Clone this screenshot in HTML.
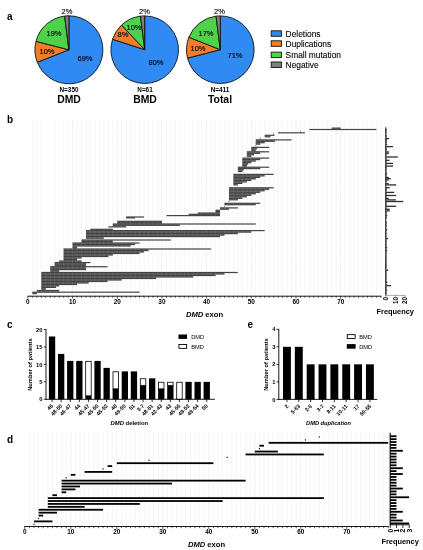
<!DOCTYPE html>
<html><head><meta charset="utf-8"><title>DMD mutation spectrum</title>
<style>html,body{margin:0;padding:0;background:#fff}svg{display:block}text{font-family:"Liberation Sans",Arial,sans-serif;fill:#000}.b{font-weight:bold}.i{font-style:italic}</style>
</head><body>
<svg width="423" height="550" viewBox="0 0 423 550">
<rect width="423" height="550" fill="#fff"/>
<g id="panel-a">
<text class="b" x="7" y="19.5" font-size="10">a</text>
<path d="M68.90,49.80 L68.90,15.80 A34.0,34.0 0 1 1 37.29,62.32 Z" fill="#2f8af2" stroke="#111" stroke-width="0.9" stroke-linejoin="round"/>
<path d="M68.90,49.80 L37.29,62.32 A34.0,34.0 0 0 1 35.97,41.34 Z" fill="#f07d28" stroke="#111" stroke-width="0.9" stroke-linejoin="round"/>
<path d="M68.90,49.80 L35.97,41.34 A34.0,34.0 0 0 1 64.64,16.07 Z" fill="#4ed24a" stroke="#111" stroke-width="0.9" stroke-linejoin="round"/>
<path d="M68.90,49.80 L64.64,16.07 A34.0,34.0 0 0 1 68.90,15.80 Z" fill="#7f7f7f" stroke="#111" stroke-width="0.9" stroke-linejoin="round"/>
<path d="M144.70,49.70 L144.70,15.90 A33.8,33.8 0 1 1 112.55,39.26 Z" fill="#2f8af2" stroke="#111" stroke-width="0.9" stroke-linejoin="round"/>
<path d="M144.70,49.70 L112.55,39.26 A33.8,33.8 0 0 1 121.56,25.06 Z" fill="#f07d28" stroke="#111" stroke-width="0.9" stroke-linejoin="round"/>
<path d="M144.70,49.70 L121.56,25.06 A33.8,33.8 0 0 1 140.46,16.17 Z" fill="#4ed24a" stroke="#111" stroke-width="0.9" stroke-linejoin="round"/>
<path d="M144.70,49.70 L140.46,16.17 A33.8,33.8 0 0 1 144.70,15.90 Z" fill="#7f7f7f" stroke="#111" stroke-width="0.9" stroke-linejoin="round"/>
<path d="M220.30,49.70 L220.30,15.90 A33.8,33.8 0 1 1 187.56,58.11 Z" fill="#2f8af2" stroke="#111" stroke-width="0.9" stroke-linejoin="round"/>
<path d="M220.30,49.70 L187.56,58.11 A33.8,33.8 0 0 1 188.87,37.26 Z" fill="#f07d28" stroke="#111" stroke-width="0.9" stroke-linejoin="round"/>
<path d="M220.30,49.70 L188.87,37.26 A33.8,33.8 0 0 1 216.06,16.17 Z" fill="#4ed24a" stroke="#111" stroke-width="0.9" stroke-linejoin="round"/>
<path d="M220.30,49.70 L216.06,16.17 A33.8,33.8 0 0 1 220.30,15.90 Z" fill="#7f7f7f" stroke="#111" stroke-width="0.9" stroke-linejoin="round"/>
<text class="" x="67" y="14" font-size="7.5" text-anchor="middle" stroke="#000" stroke-width="0.12">2%</text>
<text class="" x="54" y="35.5" font-size="7.5" text-anchor="middle" stroke="#000" stroke-width="0.12">19%</text>
<text class="" x="47" y="53.5" font-size="7.5" text-anchor="middle" stroke="#000" stroke-width="0.12">10%</text>
<text class="" x="85" y="60.5" font-size="7.5" text-anchor="middle" stroke="#000" stroke-width="0.12">69%</text>
<text class="" x="144.5" y="14" font-size="7.5" text-anchor="middle" stroke="#000" stroke-width="0.12">2%</text>
<text class="" x="134" y="29.5" font-size="7.5" text-anchor="middle" stroke="#000" stroke-width="0.12">10%</text>
<text class="" x="123" y="37" font-size="7.5" text-anchor="middle" stroke="#000" stroke-width="0.12">8%</text>
<text class="" x="156" y="64.5" font-size="7.5" text-anchor="middle" stroke="#000" stroke-width="0.12">80%</text>
<text class="" x="219.5" y="14" font-size="7.5" text-anchor="middle" stroke="#000" stroke-width="0.12">2%</text>
<text class="" x="206" y="35.5" font-size="7.5" text-anchor="middle" stroke="#000" stroke-width="0.12">17%</text>
<text class="" x="198" y="50.5" font-size="7.5" text-anchor="middle" stroke="#000" stroke-width="0.12">10%</text>
<text class="" x="235" y="57.5" font-size="7.5" text-anchor="middle" stroke="#000" stroke-width="0.12">71%</text>
<text class="b" x="69" y="91.7" font-size="6.4" text-anchor="middle" >N=350</text>
<text class="b" x="69" y="102.7" font-size="10.4" text-anchor="middle" >DMD</text>
<text class="b" x="145" y="91.7" font-size="6.4" text-anchor="middle" >N=61</text>
<text class="b" x="145" y="102.7" font-size="10.4" text-anchor="middle" >BMD</text>
<text class="b" x="220" y="91.7" font-size="6.4" text-anchor="middle" >N=411</text>
<text class="b" x="220" y="102.7" font-size="10.4" text-anchor="middle" >Total</text>
<clipPath id="lgclip"><rect x="260" y="20" width="81.0" height="60"/></clipPath>
<g clip-path="url(#lgclip)">
<rect x="271.2" y="30.80" width="10.2" height="5.5" fill="#2f8af2" stroke="#111" stroke-width="0.9"/>
<text class="" x="285.6" y="36.5" font-size="8.4" text-anchor="start" stroke="#000" stroke-width="0.1">Deletions</text>
<rect x="271.2" y="40.80" width="10.2" height="5.5" fill="#f07d28" stroke="#111" stroke-width="0.9"/>
<text class="" x="285.6" y="46.5" font-size="8.4" text-anchor="start" stroke="#000" stroke-width="0.1">Duplications</text>
<rect x="271.2" y="52.10" width="10.2" height="5.5" fill="#4ed24a" stroke="#111" stroke-width="0.9"/>
<text class="" x="285.6" y="57.8" font-size="8.4" text-anchor="start" stroke="#000" stroke-width="0.1">Small mutations</text>
<rect x="271.2" y="62.00" width="10.2" height="5.5" fill="#7f7f7f" stroke="#111" stroke-width="0.9"/>
<text class="" x="285.6" y="67.7" font-size="8.4" text-anchor="start" stroke="#000" stroke-width="0.1">Negative</text>
</g>
</g>
<g id="panel-b">
<text class="b" x="7" y="122.9" font-size="10">b</text>
<line x1="32.37" y1="120" x2="32.37" y2="296" stroke="#f1f1f1" stroke-width="0.7"/>
<line x1="36.84" y1="120" x2="36.84" y2="296" stroke="#f1f1f1" stroke-width="0.7"/>
<line x1="41.30" y1="120" x2="41.30" y2="296" stroke="#f1f1f1" stroke-width="0.7"/>
<line x1="45.77" y1="120" x2="45.77" y2="296" stroke="#f1f1f1" stroke-width="0.7"/>
<line x1="50.24" y1="120" x2="50.24" y2="296" stroke="#f1f1f1" stroke-width="0.7"/>
<line x1="54.71" y1="120" x2="54.71" y2="296" stroke="#f1f1f1" stroke-width="0.7"/>
<line x1="59.18" y1="120" x2="59.18" y2="296" stroke="#f1f1f1" stroke-width="0.7"/>
<line x1="63.64" y1="120" x2="63.64" y2="296" stroke="#f1f1f1" stroke-width="0.7"/>
<line x1="68.11" y1="120" x2="68.11" y2="296" stroke="#f1f1f1" stroke-width="0.7"/>
<line x1="72.58" y1="120" x2="72.58" y2="296" stroke="#d8d8d8" stroke-width="0.7" stroke-dasharray="1 0.8"/>
<line x1="77.05" y1="120" x2="77.05" y2="296" stroke="#f1f1f1" stroke-width="0.7"/>
<line x1="81.52" y1="120" x2="81.52" y2="296" stroke="#f1f1f1" stroke-width="0.7"/>
<line x1="85.98" y1="120" x2="85.98" y2="296" stroke="#f1f1f1" stroke-width="0.7"/>
<line x1="90.45" y1="120" x2="90.45" y2="296" stroke="#f1f1f1" stroke-width="0.7"/>
<line x1="94.92" y1="120" x2="94.92" y2="296" stroke="#f1f1f1" stroke-width="0.7"/>
<line x1="99.39" y1="120" x2="99.39" y2="296" stroke="#f1f1f1" stroke-width="0.7"/>
<line x1="103.86" y1="120" x2="103.86" y2="296" stroke="#f1f1f1" stroke-width="0.7"/>
<line x1="108.32" y1="120" x2="108.32" y2="296" stroke="#f1f1f1" stroke-width="0.7"/>
<line x1="112.79" y1="120" x2="112.79" y2="296" stroke="#f1f1f1" stroke-width="0.7"/>
<line x1="117.26" y1="120" x2="117.26" y2="296" stroke="#d8d8d8" stroke-width="0.7" stroke-dasharray="1 0.8"/>
<line x1="121.73" y1="120" x2="121.73" y2="296" stroke="#f1f1f1" stroke-width="0.7"/>
<line x1="126.20" y1="120" x2="126.20" y2="296" stroke="#f1f1f1" stroke-width="0.7"/>
<line x1="130.66" y1="120" x2="130.66" y2="296" stroke="#f1f1f1" stroke-width="0.7"/>
<line x1="135.13" y1="120" x2="135.13" y2="296" stroke="#f1f1f1" stroke-width="0.7"/>
<line x1="139.60" y1="120" x2="139.60" y2="296" stroke="#f1f1f1" stroke-width="0.7"/>
<line x1="144.07" y1="120" x2="144.07" y2="296" stroke="#f1f1f1" stroke-width="0.7"/>
<line x1="148.54" y1="120" x2="148.54" y2="296" stroke="#f1f1f1" stroke-width="0.7"/>
<line x1="153.00" y1="120" x2="153.00" y2="296" stroke="#f1f1f1" stroke-width="0.7"/>
<line x1="157.47" y1="120" x2="157.47" y2="296" stroke="#f1f1f1" stroke-width="0.7"/>
<line x1="161.94" y1="120" x2="161.94" y2="296" stroke="#d8d8d8" stroke-width="0.7" stroke-dasharray="1 0.8"/>
<line x1="166.41" y1="120" x2="166.41" y2="296" stroke="#f1f1f1" stroke-width="0.7"/>
<line x1="170.88" y1="120" x2="170.88" y2="296" stroke="#f1f1f1" stroke-width="0.7"/>
<line x1="175.34" y1="120" x2="175.34" y2="296" stroke="#f1f1f1" stroke-width="0.7"/>
<line x1="179.81" y1="120" x2="179.81" y2="296" stroke="#f1f1f1" stroke-width="0.7"/>
<line x1="184.28" y1="120" x2="184.28" y2="296" stroke="#f1f1f1" stroke-width="0.7"/>
<line x1="188.75" y1="120" x2="188.75" y2="296" stroke="#f1f1f1" stroke-width="0.7"/>
<line x1="193.22" y1="120" x2="193.22" y2="296" stroke="#f1f1f1" stroke-width="0.7"/>
<line x1="197.68" y1="120" x2="197.68" y2="296" stroke="#f1f1f1" stroke-width="0.7"/>
<line x1="202.15" y1="120" x2="202.15" y2="296" stroke="#f1f1f1" stroke-width="0.7"/>
<line x1="206.62" y1="120" x2="206.62" y2="296" stroke="#d8d8d8" stroke-width="0.7" stroke-dasharray="1 0.8"/>
<line x1="211.09" y1="120" x2="211.09" y2="296" stroke="#f1f1f1" stroke-width="0.7"/>
<line x1="215.56" y1="120" x2="215.56" y2="296" stroke="#f1f1f1" stroke-width="0.7"/>
<line x1="220.02" y1="120" x2="220.02" y2="296" stroke="#f1f1f1" stroke-width="0.7"/>
<line x1="224.49" y1="120" x2="224.49" y2="296" stroke="#f1f1f1" stroke-width="0.7"/>
<line x1="228.96" y1="120" x2="228.96" y2="296" stroke="#f1f1f1" stroke-width="0.7"/>
<line x1="233.43" y1="120" x2="233.43" y2="296" stroke="#f1f1f1" stroke-width="0.7"/>
<line x1="237.90" y1="120" x2="237.90" y2="296" stroke="#f1f1f1" stroke-width="0.7"/>
<line x1="242.36" y1="120" x2="242.36" y2="296" stroke="#f1f1f1" stroke-width="0.7"/>
<line x1="246.83" y1="120" x2="246.83" y2="296" stroke="#f1f1f1" stroke-width="0.7"/>
<line x1="251.30" y1="120" x2="251.30" y2="296" stroke="#d8d8d8" stroke-width="0.7" stroke-dasharray="1 0.8"/>
<line x1="255.77" y1="120" x2="255.77" y2="296" stroke="#f1f1f1" stroke-width="0.7"/>
<line x1="260.24" y1="120" x2="260.24" y2="296" stroke="#f1f1f1" stroke-width="0.7"/>
<line x1="264.70" y1="120" x2="264.70" y2="296" stroke="#f1f1f1" stroke-width="0.7"/>
<line x1="269.17" y1="120" x2="269.17" y2="296" stroke="#f1f1f1" stroke-width="0.7"/>
<line x1="273.64" y1="120" x2="273.64" y2="296" stroke="#f1f1f1" stroke-width="0.7"/>
<line x1="278.11" y1="120" x2="278.11" y2="296" stroke="#f1f1f1" stroke-width="0.7"/>
<line x1="282.58" y1="120" x2="282.58" y2="296" stroke="#f1f1f1" stroke-width="0.7"/>
<line x1="287.04" y1="120" x2="287.04" y2="296" stroke="#f1f1f1" stroke-width="0.7"/>
<line x1="291.51" y1="120" x2="291.51" y2="296" stroke="#f1f1f1" stroke-width="0.7"/>
<line x1="295.98" y1="120" x2="295.98" y2="296" stroke="#d8d8d8" stroke-width="0.7" stroke-dasharray="1 0.8"/>
<line x1="300.45" y1="120" x2="300.45" y2="296" stroke="#f1f1f1" stroke-width="0.7"/>
<line x1="304.92" y1="120" x2="304.92" y2="296" stroke="#f1f1f1" stroke-width="0.7"/>
<line x1="309.38" y1="120" x2="309.38" y2="296" stroke="#f1f1f1" stroke-width="0.7"/>
<line x1="313.85" y1="120" x2="313.85" y2="296" stroke="#f1f1f1" stroke-width="0.7"/>
<line x1="318.32" y1="120" x2="318.32" y2="296" stroke="#f1f1f1" stroke-width="0.7"/>
<line x1="322.79" y1="120" x2="322.79" y2="296" stroke="#f1f1f1" stroke-width="0.7"/>
<line x1="327.26" y1="120" x2="327.26" y2="296" stroke="#f1f1f1" stroke-width="0.7"/>
<line x1="331.72" y1="120" x2="331.72" y2="296" stroke="#f1f1f1" stroke-width="0.7"/>
<line x1="336.19" y1="120" x2="336.19" y2="296" stroke="#f1f1f1" stroke-width="0.7"/>
<line x1="340.66" y1="120" x2="340.66" y2="296" stroke="#d8d8d8" stroke-width="0.7" stroke-dasharray="1 0.8"/>
<line x1="345.13" y1="120" x2="345.13" y2="296" stroke="#f1f1f1" stroke-width="0.7"/>
<line x1="349.60" y1="120" x2="349.60" y2="296" stroke="#f1f1f1" stroke-width="0.7"/>
<line x1="354.06" y1="120" x2="354.06" y2="296" stroke="#f1f1f1" stroke-width="0.7"/>
<line x1="358.53" y1="120" x2="358.53" y2="296" stroke="#f1f1f1" stroke-width="0.7"/>
<line x1="363.00" y1="120" x2="363.00" y2="296" stroke="#f1f1f1" stroke-width="0.7"/>
<line x1="367.47" y1="120" x2="367.47" y2="296" stroke="#f1f1f1" stroke-width="0.7"/>
<line x1="371.94" y1="120" x2="371.94" y2="296" stroke="#f1f1f1" stroke-width="0.7"/>
<line x1="376.40" y1="120" x2="376.40" y2="296" stroke="#f1f1f1" stroke-width="0.7"/>
<line x1="380.87" y1="120" x2="380.87" y2="296" stroke="#f1f1f1" stroke-width="0.7"/>
<rect x="331.72" y="128.10" width="8.94" height="1.40" fill="#8a8a8a"/>
<rect x="264.70" y="135.30" width="5.81" height="1.50" fill="#8a8a8a"/>
<rect x="255.77" y="139.90" width="19.21" height="1.40" fill="#8a8a8a"/>
<rect x="255.77" y="141.30" width="8.94" height="1.40" fill="#8a8a8a"/>
<rect x="255.77" y="142.70" width="4.47" height="1.40" fill="#8a8a8a"/>
<rect x="251.30" y="147.40" width="5.81" height="1.40" fill="#8a8a8a"/>
<rect x="251.30" y="148.80" width="4.47" height="1.40" fill="#8a8a8a"/>
<rect x="251.30" y="150.20" width="4.47" height="1.60" fill="#8a8a8a"/>
<rect x="246.83" y="151.80" width="13.40" height="1.50" fill="#8a8a8a"/>
<rect x="246.83" y="153.30" width="7.15" height="1.50" fill="#8a8a8a"/>
<rect x="246.83" y="154.80" width="4.47" height="1.50" fill="#8a8a8a"/>
<rect x="242.36" y="158.10" width="17.87" height="1.50" fill="#8a8a8a"/>
<rect x="242.36" y="159.60" width="13.40" height="1.50" fill="#8a8a8a"/>
<rect x="242.36" y="161.10" width="8.94" height="1.50" fill="#8a8a8a"/>
<rect x="242.36" y="162.60" width="5.81" height="1.50" fill="#8a8a8a"/>
<rect x="242.36" y="164.10" width="4.47" height="1.50" fill="#8a8a8a"/>
<rect x="242.36" y="165.60" width="4.47" height="1.60" fill="#8a8a8a"/>
<rect x="237.90" y="167.20" width="22.34" height="1.40" fill="#8a8a8a"/>
<rect x="237.90" y="168.60" width="5.81" height="1.40" fill="#8a8a8a"/>
<rect x="237.90" y="170.00" width="4.47" height="1.50" fill="#8a8a8a"/>
<rect x="233.43" y="174.40" width="31.28" height="1.50" fill="#8a8a8a"/>
<rect x="233.43" y="175.90" width="26.81" height="1.50" fill="#8a8a8a"/>
<rect x="233.43" y="177.40" width="22.34" height="1.50" fill="#8a8a8a"/>
<rect x="233.43" y="178.90" width="17.87" height="1.50" fill="#8a8a8a"/>
<rect x="233.43" y="180.40" width="13.40" height="1.50" fill="#8a8a8a"/>
<rect x="233.43" y="181.90" width="8.94" height="1.50" fill="#8a8a8a"/>
<rect x="233.43" y="183.40" width="4.47" height="1.50" fill="#8a8a8a"/>
<rect x="228.96" y="187.80" width="40.21" height="1.50" fill="#8a8a8a"/>
<rect x="228.96" y="189.30" width="35.74" height="1.50" fill="#8a8a8a"/>
<rect x="228.96" y="190.80" width="31.28" height="1.50" fill="#8a8a8a"/>
<rect x="228.96" y="192.30" width="26.81" height="1.50" fill="#8a8a8a"/>
<rect x="228.96" y="193.80" width="22.34" height="1.50" fill="#8a8a8a"/>
<rect x="228.96" y="195.30" width="17.87" height="1.50" fill="#8a8a8a"/>
<rect x="228.96" y="196.80" width="13.40" height="1.50" fill="#8a8a8a"/>
<rect x="228.96" y="198.30" width="8.94" height="1.50" fill="#8a8a8a"/>
<rect x="224.49" y="203.30" width="31.28" height="1.40" fill="#8a8a8a"/>
<rect x="220.02" y="207.90" width="8.94" height="1.30" fill="#8a8a8a"/>
<rect x="215.56" y="210.30" width="4.47" height="1.30" fill="#8a8a8a"/>
<rect x="215.56" y="211.60" width="4.47" height="1.40" fill="#8a8a8a"/>
<rect x="197.68" y="213.00" width="22.34" height="1.30" fill="#8a8a8a"/>
<rect x="188.75" y="214.30" width="31.28" height="1.30" fill="#8a8a8a"/>
<rect x="126.20" y="217.00" width="8.94" height="0.90" fill="#8a8a8a"/>
<rect x="117.26" y="221.30" width="44.68" height="1.40" fill="#8a8a8a"/>
<rect x="117.26" y="222.70" width="44.68" height="1.30" fill="#8a8a8a"/>
<rect x="112.79" y="224.00" width="67.02" height="1.30" fill="#8a8a8a"/>
<rect x="112.79" y="225.30" width="13.40" height="1.60" fill="#8a8a8a"/>
<rect x="90.45" y="229.30" width="22.34" height="1.30" fill="#8a8a8a"/>
<rect x="85.98" y="230.60" width="165.32" height="1.50" fill="#8a8a8a"/>
<rect x="85.98" y="232.10" width="151.91" height="1.50" fill="#8a8a8a"/>
<rect x="85.98" y="233.60" width="138.51" height="1.50" fill="#8a8a8a"/>
<rect x="85.98" y="235.10" width="134.04" height="1.50" fill="#8a8a8a"/>
<rect x="85.98" y="236.60" width="17.87" height="1.60" fill="#8a8a8a"/>
<rect x="81.52" y="240.00" width="31.28" height="1.50" fill="#8a8a8a"/>
<rect x="81.52" y="241.50" width="31.28" height="1.50" fill="#8a8a8a"/>
<rect x="72.58" y="243.00" width="62.55" height="1.50" fill="#8a8a8a"/>
<rect x="72.58" y="244.50" width="58.08" height="1.50" fill="#8a8a8a"/>
<rect x="72.58" y="246.00" width="4.47" height="1.70" fill="#8a8a8a"/>
<rect x="72.58" y="247.70" width="4.47" height="1.30" fill="#8a8a8a"/>
<rect x="63.64" y="249.00" width="84.89" height="1.50" fill="#8a8a8a"/>
<rect x="63.64" y="250.50" width="80.42" height="1.50" fill="#8a8a8a"/>
<rect x="63.64" y="252.00" width="75.96" height="1.50" fill="#8a8a8a"/>
<rect x="63.64" y="253.50" width="49.15" height="1.50" fill="#8a8a8a"/>
<rect x="63.64" y="255.00" width="44.68" height="1.50" fill="#8a8a8a"/>
<rect x="63.64" y="256.50" width="17.87" height="1.50" fill="#8a8a8a"/>
<rect x="63.64" y="258.00" width="13.40" height="1.50" fill="#8a8a8a"/>
<rect x="63.64" y="259.50" width="13.40" height="1.50" fill="#8a8a8a"/>
<rect x="59.18" y="261.00" width="22.34" height="1.60" fill="#8a8a8a"/>
<rect x="54.71" y="262.60" width="31.28" height="1.40" fill="#8a8a8a"/>
<rect x="54.71" y="264.00" width="31.28" height="1.30" fill="#8a8a8a"/>
<rect x="54.71" y="265.30" width="31.28" height="1.40" fill="#8a8a8a"/>
<rect x="50.24" y="266.70" width="35.74" height="1.40" fill="#8a8a8a"/>
<rect x="50.24" y="268.10" width="35.74" height="1.50" fill="#8a8a8a"/>
<rect x="50.24" y="269.60" width="8.94" height="1.40" fill="#8a8a8a"/>
<rect x="50.24" y="271.00" width="8.94" height="1.50" fill="#8a8a8a"/>
<rect x="41.30" y="272.50" width="183.19" height="1.50" fill="#8a8a8a"/>
<rect x="41.30" y="274.00" width="174.25" height="1.50" fill="#8a8a8a"/>
<rect x="41.30" y="275.50" width="151.91" height="1.50" fill="#8a8a8a"/>
<rect x="41.30" y="277.00" width="114.83" height="1.50" fill="#8a8a8a"/>
<rect x="41.30" y="278.50" width="80.42" height="1.50" fill="#8a8a8a"/>
<rect x="41.30" y="280.00" width="66.13" height="1.50" fill="#8a8a8a"/>
<rect x="41.30" y="281.50" width="47.36" height="1.50" fill="#8a8a8a"/>
<rect x="41.30" y="283.00" width="35.74" height="1.50" fill="#8a8a8a"/>
<rect x="41.30" y="284.50" width="17.87" height="1.40" fill="#8a8a8a"/>
<rect x="41.30" y="285.90" width="14.74" height="1.50" fill="#8a8a8a"/>
<rect x="41.30" y="287.40" width="4.47" height="1.50" fill="#8a8a8a"/>
<rect x="41.30" y="288.90" width="4.47" height="1.60" fill="#8a8a8a"/>
<rect x="36.84" y="290.50" width="22.34" height="1.70" fill="#8a8a8a"/>
<rect x="32.37" y="292.20" width="4.47" height="1.40" fill="#8a8a8a"/>
<rect x="331.72" y="127.50" width="8.94" height="1.2" fill="#414141"/>
<rect x="309.38" y="128.90" width="67.02" height="1.2" fill="#414141"/>
<rect x="300.05" y="130.60" width="0.9" height="1" fill="#414141"/>
<rect x="278.11" y="132.20" width="26.81" height="1.2" fill="#414141"/>
<rect x="273.24" y="133.50" width="0.9" height="1" fill="#414141"/>
<rect x="264.70" y="134.70" width="9.83" height="1.2" fill="#414141"/>
<rect x="264.70" y="136.20" width="5.81" height="1.2" fill="#414141"/>
<rect x="259.84" y="137.90" width="0.9" height="1" fill="#414141"/>
<rect x="255.77" y="139.30" width="35.74" height="1.2" fill="#414141"/>
<rect x="255.77" y="140.70" width="19.21" height="1.2" fill="#414141"/>
<rect x="255.77" y="142.10" width="8.94" height="1.2" fill="#414141"/>
<rect x="255.77" y="143.50" width="4.47" height="1.2" fill="#414141"/>
<rect x="255.37" y="145.10" width="0.9" height="1" fill="#414141"/>
<rect x="251.30" y="146.80" width="17.87" height="1.2" fill="#414141"/>
<rect x="251.30" y="148.20" width="5.81" height="1.2" fill="#414141"/>
<rect x="251.30" y="149.60" width="4.47" height="1.2" fill="#414141"/>
<rect x="246.83" y="151.20" width="22.34" height="1.2" fill="#414141"/>
<rect x="246.83" y="152.70" width="13.40" height="1.2" fill="#414141"/>
<rect x="246.83" y="154.20" width="7.15" height="1.2" fill="#414141"/>
<rect x="246.83" y="155.70" width="4.47" height="1.2" fill="#414141"/>
<rect x="242.36" y="157.50" width="26.81" height="1.2" fill="#414141"/>
<rect x="242.36" y="159.00" width="17.87" height="1.2" fill="#414141"/>
<rect x="242.36" y="160.50" width="13.40" height="1.2" fill="#414141"/>
<rect x="242.36" y="162.00" width="8.94" height="1.2" fill="#414141"/>
<rect x="242.36" y="163.50" width="5.81" height="1.2" fill="#414141"/>
<rect x="242.36" y="165.00" width="4.47" height="1.2" fill="#414141"/>
<rect x="237.90" y="166.60" width="31.28" height="1.2" fill="#414141"/>
<rect x="237.90" y="168.00" width="22.34" height="1.2" fill="#414141"/>
<rect x="237.90" y="169.40" width="5.81" height="1.2" fill="#414141"/>
<rect x="237.90" y="170.90" width="4.47" height="1.2" fill="#414141"/>
<rect x="233.43" y="173.80" width="40.21" height="1.2" fill="#414141"/>
<rect x="233.43" y="175.30" width="31.28" height="1.2" fill="#414141"/>
<rect x="233.43" y="176.80" width="26.81" height="1.2" fill="#414141"/>
<rect x="233.43" y="178.30" width="22.34" height="1.2" fill="#414141"/>
<rect x="233.43" y="179.80" width="17.87" height="1.2" fill="#414141"/>
<rect x="233.43" y="181.30" width="13.40" height="1.2" fill="#414141"/>
<rect x="233.43" y="182.80" width="8.94" height="1.2" fill="#414141"/>
<rect x="233.43" y="184.30" width="4.47" height="1.2" fill="#414141"/>
<rect x="228.96" y="187.20" width="44.68" height="1.2" fill="#414141"/>
<rect x="228.96" y="188.70" width="40.21" height="1.2" fill="#414141"/>
<rect x="228.96" y="190.20" width="35.74" height="1.2" fill="#414141"/>
<rect x="228.96" y="191.70" width="31.28" height="1.2" fill="#414141"/>
<rect x="228.96" y="193.20" width="26.81" height="1.2" fill="#414141"/>
<rect x="228.96" y="194.70" width="22.34" height="1.2" fill="#414141"/>
<rect x="228.96" y="196.20" width="17.87" height="1.2" fill="#414141"/>
<rect x="228.96" y="197.70" width="13.40" height="1.2" fill="#414141"/>
<rect x="228.96" y="199.20" width="8.94" height="1.2" fill="#414141"/>
<rect x="228.56" y="200.80" width="0.9" height="1" fill="#414141"/>
<rect x="224.49" y="202.70" width="35.74" height="1.2" fill="#414141"/>
<rect x="224.49" y="204.10" width="31.28" height="1.2" fill="#414141"/>
<rect x="224.09" y="205.80" width="0.9" height="1" fill="#414141"/>
<rect x="220.02" y="207.30" width="17.87" height="1.2" fill="#414141"/>
<rect x="220.02" y="208.60" width="8.94" height="1.2" fill="#414141"/>
<rect x="215.56" y="209.70" width="4.47" height="1.2" fill="#414141"/>
<rect x="215.56" y="211.00" width="4.47" height="1.2" fill="#414141"/>
<rect x="197.68" y="212.40" width="22.34" height="1.2" fill="#414141"/>
<rect x="188.75" y="213.70" width="31.28" height="1.2" fill="#414141"/>
<rect x="166.41" y="215.00" width="53.62" height="1.2" fill="#414141"/>
<rect x="126.20" y="216.40" width="17.87" height="1.2" fill="#414141"/>
<rect x="126.20" y="217.30" width="8.94" height="1.2" fill="#414141"/>
<rect x="117.26" y="220.70" width="44.68" height="1.2" fill="#414141"/>
<rect x="117.26" y="222.10" width="44.68" height="1.2" fill="#414141"/>
<rect x="112.79" y="223.40" width="142.98" height="1.2" fill="#414141"/>
<rect x="112.79" y="224.70" width="67.02" height="1.2" fill="#414141"/>
<rect x="108.32" y="226.30" width="17.87" height="1.2" fill="#414141"/>
<rect x="90.45" y="228.70" width="22.34" height="1.2" fill="#414141"/>
<rect x="85.98" y="230.00" width="178.72" height="1.2" fill="#414141"/>
<rect x="85.98" y="231.50" width="165.32" height="1.2" fill="#414141"/>
<rect x="85.98" y="233.00" width="151.91" height="1.2" fill="#414141"/>
<rect x="85.98" y="234.50" width="138.51" height="1.2" fill="#414141"/>
<rect x="85.98" y="236.00" width="134.04" height="1.2" fill="#414141"/>
<rect x="85.98" y="237.60" width="17.87" height="1.2" fill="#414141"/>
<rect x="81.52" y="239.40" width="89.36" height="1.2" fill="#414141"/>
<rect x="81.52" y="240.90" width="31.28" height="1.2" fill="#414141"/>
<rect x="72.58" y="242.40" width="67.02" height="1.2" fill="#414141"/>
<rect x="72.58" y="243.90" width="62.55" height="1.2" fill="#414141"/>
<rect x="72.58" y="245.40" width="58.08" height="1.2" fill="#414141"/>
<rect x="72.58" y="247.10" width="4.47" height="1.2" fill="#414141"/>
<rect x="63.64" y="248.40" width="147.44" height="1.2" fill="#414141"/>
<rect x="63.64" y="249.90" width="84.89" height="1.2" fill="#414141"/>
<rect x="63.64" y="251.40" width="80.42" height="1.2" fill="#414141"/>
<rect x="63.64" y="252.90" width="75.96" height="1.2" fill="#414141"/>
<rect x="63.64" y="254.40" width="49.15" height="1.2" fill="#414141"/>
<rect x="63.64" y="255.90" width="44.68" height="1.2" fill="#414141"/>
<rect x="63.64" y="257.40" width="17.87" height="1.2" fill="#414141"/>
<rect x="63.64" y="258.90" width="13.40" height="1.2" fill="#414141"/>
<rect x="59.18" y="260.40" width="22.34" height="1.2" fill="#414141"/>
<rect x="54.71" y="262.00" width="35.74" height="1.2" fill="#414141"/>
<rect x="54.71" y="263.40" width="31.28" height="1.2" fill="#414141"/>
<rect x="54.71" y="264.70" width="31.28" height="1.2" fill="#414141"/>
<rect x="50.24" y="266.10" width="57.19" height="1.2" fill="#414141"/>
<rect x="50.24" y="267.50" width="35.74" height="1.2" fill="#414141"/>
<rect x="50.24" y="269.00" width="35.74" height="1.2" fill="#414141"/>
<rect x="50.24" y="270.40" width="8.94" height="1.2" fill="#414141"/>
<rect x="41.30" y="271.90" width="196.59" height="1.2" fill="#414141"/>
<rect x="41.30" y="273.40" width="183.19" height="1.2" fill="#414141"/>
<rect x="41.30" y="274.90" width="174.25" height="1.2" fill="#414141"/>
<rect x="41.30" y="276.40" width="151.91" height="1.2" fill="#414141"/>
<rect x="41.30" y="277.90" width="114.83" height="1.2" fill="#414141"/>
<rect x="41.30" y="279.40" width="80.42" height="1.2" fill="#414141"/>
<rect x="41.30" y="280.90" width="66.13" height="1.2" fill="#414141"/>
<rect x="41.30" y="282.40" width="47.36" height="1.2" fill="#414141"/>
<rect x="41.30" y="283.90" width="35.74" height="1.2" fill="#414141"/>
<rect x="41.30" y="285.30" width="17.87" height="1.2" fill="#414141"/>
<rect x="41.30" y="286.80" width="14.74" height="1.2" fill="#414141"/>
<rect x="41.30" y="288.30" width="4.47" height="1.2" fill="#414141"/>
<rect x="36.84" y="289.90" width="22.34" height="1.2" fill="#414141"/>
<rect x="32.37" y="291.60" width="107.23" height="1.2" fill="#414141"/>
<rect x="32.37" y="293.00" width="4.47" height="1.2" fill="#414141"/>
<line x1="32.37" y1="127" x2="32.37" y2="295" stroke="#fff" stroke-opacity="0.13" stroke-width="0.6"/>
<line x1="36.84" y1="127" x2="36.84" y2="295" stroke="#fff" stroke-opacity="0.13" stroke-width="0.6"/>
<line x1="41.30" y1="127" x2="41.30" y2="295" stroke="#fff" stroke-opacity="0.13" stroke-width="0.6"/>
<line x1="45.77" y1="127" x2="45.77" y2="295" stroke="#fff" stroke-opacity="0.13" stroke-width="0.6"/>
<line x1="50.24" y1="127" x2="50.24" y2="295" stroke="#fff" stroke-opacity="0.13" stroke-width="0.6"/>
<line x1="54.71" y1="127" x2="54.71" y2="295" stroke="#fff" stroke-opacity="0.13" stroke-width="0.6"/>
<line x1="59.18" y1="127" x2="59.18" y2="295" stroke="#fff" stroke-opacity="0.13" stroke-width="0.6"/>
<line x1="63.64" y1="127" x2="63.64" y2="295" stroke="#fff" stroke-opacity="0.13" stroke-width="0.6"/>
<line x1="68.11" y1="127" x2="68.11" y2="295" stroke="#fff" stroke-opacity="0.13" stroke-width="0.6"/>
<line x1="72.58" y1="127" x2="72.58" y2="295" stroke="#fff" stroke-opacity="0.13" stroke-width="0.6"/>
<line x1="77.05" y1="127" x2="77.05" y2="295" stroke="#fff" stroke-opacity="0.13" stroke-width="0.6"/>
<line x1="81.52" y1="127" x2="81.52" y2="295" stroke="#fff" stroke-opacity="0.13" stroke-width="0.6"/>
<line x1="85.98" y1="127" x2="85.98" y2="295" stroke="#fff" stroke-opacity="0.13" stroke-width="0.6"/>
<line x1="90.45" y1="127" x2="90.45" y2="295" stroke="#fff" stroke-opacity="0.13" stroke-width="0.6"/>
<line x1="94.92" y1="127" x2="94.92" y2="295" stroke="#fff" stroke-opacity="0.13" stroke-width="0.6"/>
<line x1="99.39" y1="127" x2="99.39" y2="295" stroke="#fff" stroke-opacity="0.13" stroke-width="0.6"/>
<line x1="103.86" y1="127" x2="103.86" y2="295" stroke="#fff" stroke-opacity="0.13" stroke-width="0.6"/>
<line x1="108.32" y1="127" x2="108.32" y2="295" stroke="#fff" stroke-opacity="0.13" stroke-width="0.6"/>
<line x1="112.79" y1="127" x2="112.79" y2="295" stroke="#fff" stroke-opacity="0.13" stroke-width="0.6"/>
<line x1="117.26" y1="127" x2="117.26" y2="295" stroke="#fff" stroke-opacity="0.13" stroke-width="0.6"/>
<line x1="121.73" y1="127" x2="121.73" y2="295" stroke="#fff" stroke-opacity="0.13" stroke-width="0.6"/>
<line x1="126.20" y1="127" x2="126.20" y2="295" stroke="#fff" stroke-opacity="0.13" stroke-width="0.6"/>
<line x1="130.66" y1="127" x2="130.66" y2="295" stroke="#fff" stroke-opacity="0.13" stroke-width="0.6"/>
<line x1="135.13" y1="127" x2="135.13" y2="295" stroke="#fff" stroke-opacity="0.13" stroke-width="0.6"/>
<line x1="139.60" y1="127" x2="139.60" y2="295" stroke="#fff" stroke-opacity="0.13" stroke-width="0.6"/>
<line x1="144.07" y1="127" x2="144.07" y2="295" stroke="#fff" stroke-opacity="0.13" stroke-width="0.6"/>
<line x1="148.54" y1="127" x2="148.54" y2="295" stroke="#fff" stroke-opacity="0.13" stroke-width="0.6"/>
<line x1="153.00" y1="127" x2="153.00" y2="295" stroke="#fff" stroke-opacity="0.13" stroke-width="0.6"/>
<line x1="157.47" y1="127" x2="157.47" y2="295" stroke="#fff" stroke-opacity="0.13" stroke-width="0.6"/>
<line x1="161.94" y1="127" x2="161.94" y2="295" stroke="#fff" stroke-opacity="0.13" stroke-width="0.6"/>
<line x1="166.41" y1="127" x2="166.41" y2="295" stroke="#fff" stroke-opacity="0.13" stroke-width="0.6"/>
<line x1="170.88" y1="127" x2="170.88" y2="295" stroke="#fff" stroke-opacity="0.13" stroke-width="0.6"/>
<line x1="175.34" y1="127" x2="175.34" y2="295" stroke="#fff" stroke-opacity="0.13" stroke-width="0.6"/>
<line x1="179.81" y1="127" x2="179.81" y2="295" stroke="#fff" stroke-opacity="0.13" stroke-width="0.6"/>
<line x1="184.28" y1="127" x2="184.28" y2="295" stroke="#fff" stroke-opacity="0.13" stroke-width="0.6"/>
<line x1="188.75" y1="127" x2="188.75" y2="295" stroke="#fff" stroke-opacity="0.13" stroke-width="0.6"/>
<line x1="193.22" y1="127" x2="193.22" y2="295" stroke="#fff" stroke-opacity="0.13" stroke-width="0.6"/>
<line x1="197.68" y1="127" x2="197.68" y2="295" stroke="#fff" stroke-opacity="0.13" stroke-width="0.6"/>
<line x1="202.15" y1="127" x2="202.15" y2="295" stroke="#fff" stroke-opacity="0.13" stroke-width="0.6"/>
<line x1="206.62" y1="127" x2="206.62" y2="295" stroke="#fff" stroke-opacity="0.13" stroke-width="0.6"/>
<line x1="211.09" y1="127" x2="211.09" y2="295" stroke="#fff" stroke-opacity="0.13" stroke-width="0.6"/>
<line x1="215.56" y1="127" x2="215.56" y2="295" stroke="#fff" stroke-opacity="0.13" stroke-width="0.6"/>
<line x1="220.02" y1="127" x2="220.02" y2="295" stroke="#fff" stroke-opacity="0.13" stroke-width="0.6"/>
<line x1="224.49" y1="127" x2="224.49" y2="295" stroke="#fff" stroke-opacity="0.13" stroke-width="0.6"/>
<line x1="228.96" y1="127" x2="228.96" y2="295" stroke="#fff" stroke-opacity="0.13" stroke-width="0.6"/>
<line x1="233.43" y1="127" x2="233.43" y2="295" stroke="#fff" stroke-opacity="0.13" stroke-width="0.6"/>
<line x1="237.90" y1="127" x2="237.90" y2="295" stroke="#fff" stroke-opacity="0.13" stroke-width="0.6"/>
<line x1="242.36" y1="127" x2="242.36" y2="295" stroke="#fff" stroke-opacity="0.13" stroke-width="0.6"/>
<line x1="246.83" y1="127" x2="246.83" y2="295" stroke="#fff" stroke-opacity="0.13" stroke-width="0.6"/>
<line x1="251.30" y1="127" x2="251.30" y2="295" stroke="#fff" stroke-opacity="0.13" stroke-width="0.6"/>
<line x1="255.77" y1="127" x2="255.77" y2="295" stroke="#fff" stroke-opacity="0.13" stroke-width="0.6"/>
<line x1="260.24" y1="127" x2="260.24" y2="295" stroke="#fff" stroke-opacity="0.13" stroke-width="0.6"/>
<line x1="264.70" y1="127" x2="264.70" y2="295" stroke="#fff" stroke-opacity="0.13" stroke-width="0.6"/>
<line x1="269.17" y1="127" x2="269.17" y2="295" stroke="#fff" stroke-opacity="0.13" stroke-width="0.6"/>
<line x1="273.64" y1="127" x2="273.64" y2="295" stroke="#fff" stroke-opacity="0.13" stroke-width="0.6"/>
<line x1="278.11" y1="127" x2="278.11" y2="295" stroke="#fff" stroke-opacity="0.13" stroke-width="0.6"/>
<line x1="282.58" y1="127" x2="282.58" y2="295" stroke="#fff" stroke-opacity="0.13" stroke-width="0.6"/>
<line x1="287.04" y1="127" x2="287.04" y2="295" stroke="#fff" stroke-opacity="0.13" stroke-width="0.6"/>
<line x1="291.51" y1="127" x2="291.51" y2="295" stroke="#fff" stroke-opacity="0.13" stroke-width="0.6"/>
<line x1="295.98" y1="127" x2="295.98" y2="295" stroke="#fff" stroke-opacity="0.13" stroke-width="0.6"/>
<line x1="300.45" y1="127" x2="300.45" y2="295" stroke="#fff" stroke-opacity="0.13" stroke-width="0.6"/>
<line x1="304.92" y1="127" x2="304.92" y2="295" stroke="#fff" stroke-opacity="0.13" stroke-width="0.6"/>
<line x1="309.38" y1="127" x2="309.38" y2="295" stroke="#fff" stroke-opacity="0.13" stroke-width="0.6"/>
<line x1="313.85" y1="127" x2="313.85" y2="295" stroke="#fff" stroke-opacity="0.13" stroke-width="0.6"/>
<line x1="318.32" y1="127" x2="318.32" y2="295" stroke="#fff" stroke-opacity="0.13" stroke-width="0.6"/>
<line x1="322.79" y1="127" x2="322.79" y2="295" stroke="#fff" stroke-opacity="0.13" stroke-width="0.6"/>
<line x1="327.26" y1="127" x2="327.26" y2="295" stroke="#fff" stroke-opacity="0.13" stroke-width="0.6"/>
<line x1="331.72" y1="127" x2="331.72" y2="295" stroke="#fff" stroke-opacity="0.13" stroke-width="0.6"/>
<line x1="336.19" y1="127" x2="336.19" y2="295" stroke="#fff" stroke-opacity="0.13" stroke-width="0.6"/>
<line x1="340.66" y1="127" x2="340.66" y2="295" stroke="#fff" stroke-opacity="0.13" stroke-width="0.6"/>
<line x1="345.13" y1="127" x2="345.13" y2="295" stroke="#fff" stroke-opacity="0.13" stroke-width="0.6"/>
<line x1="349.60" y1="127" x2="349.60" y2="295" stroke="#fff" stroke-opacity="0.13" stroke-width="0.6"/>
<line x1="354.06" y1="127" x2="354.06" y2="295" stroke="#fff" stroke-opacity="0.13" stroke-width="0.6"/>
<line x1="358.53" y1="127" x2="358.53" y2="295" stroke="#fff" stroke-opacity="0.13" stroke-width="0.6"/>
<line x1="363.00" y1="127" x2="363.00" y2="295" stroke="#fff" stroke-opacity="0.13" stroke-width="0.6"/>
<line x1="367.47" y1="127" x2="367.47" y2="295" stroke="#fff" stroke-opacity="0.13" stroke-width="0.6"/>
<line x1="371.94" y1="127" x2="371.94" y2="295" stroke="#fff" stroke-opacity="0.13" stroke-width="0.6"/>
<line x1="376.40" y1="127" x2="376.40" y2="295" stroke="#fff" stroke-opacity="0.13" stroke-width="0.6"/>
<line x1="380.87" y1="127" x2="380.87" y2="295" stroke="#fff" stroke-opacity="0.13" stroke-width="0.6"/>
<line x1="27.40" y1="296.2" x2="381.37" y2="296.2" stroke="#111" stroke-width="1"/>
<line x1="27.90" y1="296.2" x2="27.90" y2="298.50" stroke="#111" stroke-width="0.7"/>
<line x1="32.37" y1="296.2" x2="32.37" y2="297.80" stroke="#111" stroke-width="0.7"/>
<line x1="36.84" y1="296.2" x2="36.84" y2="297.80" stroke="#111" stroke-width="0.7"/>
<line x1="41.30" y1="296.2" x2="41.30" y2="297.80" stroke="#111" stroke-width="0.7"/>
<line x1="45.77" y1="296.2" x2="45.77" y2="297.80" stroke="#111" stroke-width="0.7"/>
<line x1="50.24" y1="296.2" x2="50.24" y2="297.80" stroke="#111" stroke-width="0.7"/>
<line x1="54.71" y1="296.2" x2="54.71" y2="297.80" stroke="#111" stroke-width="0.7"/>
<line x1="59.18" y1="296.2" x2="59.18" y2="297.80" stroke="#111" stroke-width="0.7"/>
<line x1="63.64" y1="296.2" x2="63.64" y2="297.80" stroke="#111" stroke-width="0.7"/>
<line x1="68.11" y1="296.2" x2="68.11" y2="297.80" stroke="#111" stroke-width="0.7"/>
<line x1="72.58" y1="296.2" x2="72.58" y2="298.50" stroke="#111" stroke-width="0.7"/>
<line x1="77.05" y1="296.2" x2="77.05" y2="297.80" stroke="#111" stroke-width="0.7"/>
<line x1="81.52" y1="296.2" x2="81.52" y2="297.80" stroke="#111" stroke-width="0.7"/>
<line x1="85.98" y1="296.2" x2="85.98" y2="297.80" stroke="#111" stroke-width="0.7"/>
<line x1="90.45" y1="296.2" x2="90.45" y2="297.80" stroke="#111" stroke-width="0.7"/>
<line x1="94.92" y1="296.2" x2="94.92" y2="297.80" stroke="#111" stroke-width="0.7"/>
<line x1="99.39" y1="296.2" x2="99.39" y2="297.80" stroke="#111" stroke-width="0.7"/>
<line x1="103.86" y1="296.2" x2="103.86" y2="297.80" stroke="#111" stroke-width="0.7"/>
<line x1="108.32" y1="296.2" x2="108.32" y2="297.80" stroke="#111" stroke-width="0.7"/>
<line x1="112.79" y1="296.2" x2="112.79" y2="297.80" stroke="#111" stroke-width="0.7"/>
<line x1="117.26" y1="296.2" x2="117.26" y2="298.50" stroke="#111" stroke-width="0.7"/>
<line x1="121.73" y1="296.2" x2="121.73" y2="297.80" stroke="#111" stroke-width="0.7"/>
<line x1="126.20" y1="296.2" x2="126.20" y2="297.80" stroke="#111" stroke-width="0.7"/>
<line x1="130.66" y1="296.2" x2="130.66" y2="297.80" stroke="#111" stroke-width="0.7"/>
<line x1="135.13" y1="296.2" x2="135.13" y2="297.80" stroke="#111" stroke-width="0.7"/>
<line x1="139.60" y1="296.2" x2="139.60" y2="297.80" stroke="#111" stroke-width="0.7"/>
<line x1="144.07" y1="296.2" x2="144.07" y2="297.80" stroke="#111" stroke-width="0.7"/>
<line x1="148.54" y1="296.2" x2="148.54" y2="297.80" stroke="#111" stroke-width="0.7"/>
<line x1="153.00" y1="296.2" x2="153.00" y2="297.80" stroke="#111" stroke-width="0.7"/>
<line x1="157.47" y1="296.2" x2="157.47" y2="297.80" stroke="#111" stroke-width="0.7"/>
<line x1="161.94" y1="296.2" x2="161.94" y2="298.50" stroke="#111" stroke-width="0.7"/>
<line x1="166.41" y1="296.2" x2="166.41" y2="297.80" stroke="#111" stroke-width="0.7"/>
<line x1="170.88" y1="296.2" x2="170.88" y2="297.80" stroke="#111" stroke-width="0.7"/>
<line x1="175.34" y1="296.2" x2="175.34" y2="297.80" stroke="#111" stroke-width="0.7"/>
<line x1="179.81" y1="296.2" x2="179.81" y2="297.80" stroke="#111" stroke-width="0.7"/>
<line x1="184.28" y1="296.2" x2="184.28" y2="297.80" stroke="#111" stroke-width="0.7"/>
<line x1="188.75" y1="296.2" x2="188.75" y2="297.80" stroke="#111" stroke-width="0.7"/>
<line x1="193.22" y1="296.2" x2="193.22" y2="297.80" stroke="#111" stroke-width="0.7"/>
<line x1="197.68" y1="296.2" x2="197.68" y2="297.80" stroke="#111" stroke-width="0.7"/>
<line x1="202.15" y1="296.2" x2="202.15" y2="297.80" stroke="#111" stroke-width="0.7"/>
<line x1="206.62" y1="296.2" x2="206.62" y2="298.50" stroke="#111" stroke-width="0.7"/>
<line x1="211.09" y1="296.2" x2="211.09" y2="297.80" stroke="#111" stroke-width="0.7"/>
<line x1="215.56" y1="296.2" x2="215.56" y2="297.80" stroke="#111" stroke-width="0.7"/>
<line x1="220.02" y1="296.2" x2="220.02" y2="297.80" stroke="#111" stroke-width="0.7"/>
<line x1="224.49" y1="296.2" x2="224.49" y2="297.80" stroke="#111" stroke-width="0.7"/>
<line x1="228.96" y1="296.2" x2="228.96" y2="297.80" stroke="#111" stroke-width="0.7"/>
<line x1="233.43" y1="296.2" x2="233.43" y2="297.80" stroke="#111" stroke-width="0.7"/>
<line x1="237.90" y1="296.2" x2="237.90" y2="297.80" stroke="#111" stroke-width="0.7"/>
<line x1="242.36" y1="296.2" x2="242.36" y2="297.80" stroke="#111" stroke-width="0.7"/>
<line x1="246.83" y1="296.2" x2="246.83" y2="297.80" stroke="#111" stroke-width="0.7"/>
<line x1="251.30" y1="296.2" x2="251.30" y2="298.50" stroke="#111" stroke-width="0.7"/>
<line x1="255.77" y1="296.2" x2="255.77" y2="297.80" stroke="#111" stroke-width="0.7"/>
<line x1="260.24" y1="296.2" x2="260.24" y2="297.80" stroke="#111" stroke-width="0.7"/>
<line x1="264.70" y1="296.2" x2="264.70" y2="297.80" stroke="#111" stroke-width="0.7"/>
<line x1="269.17" y1="296.2" x2="269.17" y2="297.80" stroke="#111" stroke-width="0.7"/>
<line x1="273.64" y1="296.2" x2="273.64" y2="297.80" stroke="#111" stroke-width="0.7"/>
<line x1="278.11" y1="296.2" x2="278.11" y2="297.80" stroke="#111" stroke-width="0.7"/>
<line x1="282.58" y1="296.2" x2="282.58" y2="297.80" stroke="#111" stroke-width="0.7"/>
<line x1="287.04" y1="296.2" x2="287.04" y2="297.80" stroke="#111" stroke-width="0.7"/>
<line x1="291.51" y1="296.2" x2="291.51" y2="297.80" stroke="#111" stroke-width="0.7"/>
<line x1="295.98" y1="296.2" x2="295.98" y2="298.50" stroke="#111" stroke-width="0.7"/>
<line x1="300.45" y1="296.2" x2="300.45" y2="297.80" stroke="#111" stroke-width="0.7"/>
<line x1="304.92" y1="296.2" x2="304.92" y2="297.80" stroke="#111" stroke-width="0.7"/>
<line x1="309.38" y1="296.2" x2="309.38" y2="297.80" stroke="#111" stroke-width="0.7"/>
<line x1="313.85" y1="296.2" x2="313.85" y2="297.80" stroke="#111" stroke-width="0.7"/>
<line x1="318.32" y1="296.2" x2="318.32" y2="297.80" stroke="#111" stroke-width="0.7"/>
<line x1="322.79" y1="296.2" x2="322.79" y2="297.80" stroke="#111" stroke-width="0.7"/>
<line x1="327.26" y1="296.2" x2="327.26" y2="297.80" stroke="#111" stroke-width="0.7"/>
<line x1="331.72" y1="296.2" x2="331.72" y2="297.80" stroke="#111" stroke-width="0.7"/>
<line x1="336.19" y1="296.2" x2="336.19" y2="297.80" stroke="#111" stroke-width="0.7"/>
<line x1="340.66" y1="296.2" x2="340.66" y2="298.50" stroke="#111" stroke-width="0.7"/>
<line x1="345.13" y1="296.2" x2="345.13" y2="297.80" stroke="#111" stroke-width="0.7"/>
<line x1="349.60" y1="296.2" x2="349.60" y2="297.80" stroke="#111" stroke-width="0.7"/>
<line x1="354.06" y1="296.2" x2="354.06" y2="297.80" stroke="#111" stroke-width="0.7"/>
<line x1="358.53" y1="296.2" x2="358.53" y2="297.80" stroke="#111" stroke-width="0.7"/>
<line x1="363.00" y1="296.2" x2="363.00" y2="297.80" stroke="#111" stroke-width="0.7"/>
<line x1="367.47" y1="296.2" x2="367.47" y2="297.80" stroke="#111" stroke-width="0.7"/>
<line x1="371.94" y1="296.2" x2="371.94" y2="297.80" stroke="#111" stroke-width="0.7"/>
<line x1="376.40" y1="296.2" x2="376.40" y2="297.80" stroke="#111" stroke-width="0.7"/>
<line x1="380.87" y1="296.2" x2="380.87" y2="297.80" stroke="#111" stroke-width="0.7"/>
<text class="b" x="27.9" y="304.2" font-size="6.4" text-anchor="middle" >0</text>
<text class="b" x="72.6" y="304.2" font-size="6.4" text-anchor="middle" >10</text>
<text class="b" x="117.3" y="304.2" font-size="6.4" text-anchor="middle" >20</text>
<text class="b" x="161.9" y="304.2" font-size="6.4" text-anchor="middle" >30</text>
<text class="b" x="206.6" y="304.2" font-size="6.4" text-anchor="middle" >40</text>
<text class="b" x="251.3" y="304.2" font-size="6.4" text-anchor="middle" >50</text>
<text class="b" x="296.0" y="304.2" font-size="6.4" text-anchor="middle" >60</text>
<text class="b" x="340.7" y="304.2" font-size="6.4" text-anchor="middle" >70</text>
<text class="b" x="204.5" y="316.8" font-size="7.6" text-anchor="middle"><tspan class="i">DMD</tspan> exon</text>
<line x1="385.7" y1="127.3" x2="385.7" y2="295.4" stroke="#333" stroke-width="1.1"/>
<line x1="385.2" y1="295.4" x2="405.3" y2="295.4" stroke="#8a8a8a" stroke-width="0.7"/>
<line x1="385.7" y1="295.4" x2="385.7" y2="296.8" stroke="#666" stroke-width="0.7"/>
<line x1="395.4" y1="295.4" x2="395.4" y2="296.8" stroke="#666" stroke-width="0.7"/>
<line x1="405.0" y1="295.4" x2="405.0" y2="296.8" stroke="#666" stroke-width="0.7"/>
<rect x="385.7" y="128.75" width="1" height="1.3" fill="#2e2e2e"/>
<rect x="385.7" y="130.35" width="1" height="1.3" fill="#2e2e2e"/>
<rect x="385.7" y="132.15" width="1" height="1.3" fill="#2e2e2e"/>
<rect x="385.7" y="134.65" width="1" height="1.3" fill="#2e2e2e"/>
<rect x="385.7" y="136.15" width="1" height="1.3" fill="#2e2e2e"/>
<rect x="385.7" y="137.85" width="3.5" height="1.3" fill="#2e2e2e"/>
<rect x="385.7" y="139.25" width="1.5" height="1.3" fill="#2e2e2e"/>
<rect x="385.7" y="140.65" width="1" height="1.3" fill="#2e2e2e"/>
<rect x="385.7" y="142.05" width="1" height="1.3" fill="#2e2e2e"/>
<rect x="385.7" y="143.85" width="1.5" height="1.3" fill="#2e2e2e"/>
<rect x="385.7" y="145.95" width="7.3" height="1.3" fill="#2e2e2e"/>
<rect x="385.7" y="147.35" width="1" height="1.3" fill="#2e2e2e"/>
<rect x="385.7" y="148.85" width="1" height="1.3" fill="#2e2e2e"/>
<rect x="385.7" y="150.35" width="1" height="1.3" fill="#2e2e2e"/>
<rect x="385.7" y="151.35" width="3.5" height="1.3" fill="#2e2e2e"/>
<rect x="385.7" y="152.85" width="3" height="1.3" fill="#2e2e2e"/>
<rect x="385.7" y="154.35" width="1" height="1.3" fill="#2e2e2e"/>
<rect x="385.7" y="156.35" width="12.1" height="1.3" fill="#2e2e2e"/>
<rect x="385.7" y="157.85" width="1" height="1.3" fill="#2e2e2e"/>
<rect x="385.7" y="159.65" width="3.8" height="1.3" fill="#2e2e2e"/>
<rect x="385.7" y="161.15" width="1" height="1.3" fill="#2e2e2e"/>
<rect x="385.7" y="162.75" width="7.3" height="1.3" fill="#2e2e2e"/>
<rect x="385.7" y="164.15" width="1" height="1.3" fill="#2e2e2e"/>
<rect x="385.7" y="165.45" width="7.3" height="1.3" fill="#2e2e2e"/>
<rect x="385.7" y="166.85" width="1" height="1.3" fill="#2e2e2e"/>
<rect x="385.7" y="168.35" width="1" height="1.3" fill="#2e2e2e"/>
<rect x="385.7" y="169.85" width="1" height="1.3" fill="#2e2e2e"/>
<rect x="385.7" y="172.35" width="1.5" height="1.3" fill="#2e2e2e"/>
<rect x="385.7" y="173.85" width="1" height="1.3" fill="#2e2e2e"/>
<rect x="385.7" y="175.35" width="1" height="1.3" fill="#2e2e2e"/>
<rect x="385.7" y="176.85" width="3" height="1.3" fill="#2e2e2e"/>
<rect x="385.7" y="178.05" width="5" height="1.3" fill="#2e2e2e"/>
<rect x="385.7" y="179.35" width="3" height="1.3" fill="#2e2e2e"/>
<rect x="385.7" y="180.85" width="1" height="1.3" fill="#2e2e2e"/>
<rect x="385.7" y="182.95" width="3" height="1.3" fill="#2e2e2e"/>
<rect x="385.7" y="184.25" width="10.5" height="1.3" fill="#2e2e2e"/>
<rect x="385.7" y="187.05" width="4" height="1.3" fill="#2e2e2e"/>
<rect x="385.7" y="188.35" width="1" height="1.3" fill="#2e2e2e"/>
<rect x="385.7" y="189.85" width="1" height="1.3" fill="#2e2e2e"/>
<rect x="385.7" y="191.75" width="8.5" height="1.3" fill="#2e2e2e"/>
<rect x="385.7" y="193.35" width="1" height="1.3" fill="#2e2e2e"/>
<rect x="385.7" y="194.85" width="10.5" height="1.3" fill="#2e2e2e"/>
<rect x="385.7" y="196.35" width="1" height="1.3" fill="#2e2e2e"/>
<rect x="385.7" y="197.85" width="3" height="1.3" fill="#2e2e2e"/>
<rect x="385.7" y="199.25" width="10" height="1.3" fill="#2e2e2e"/>
<rect x="385.7" y="200.85" width="17.5" height="1.3" fill="#2e2e2e"/>
<rect x="385.7" y="202.35" width="1" height="1.3" fill="#2e2e2e"/>
<rect x="385.7" y="203.85" width="1" height="1.3" fill="#2e2e2e"/>
<rect x="385.7" y="205.65" width="10.5" height="1.3" fill="#2e2e2e"/>
<rect x="385.7" y="207.35" width="1" height="1.3" fill="#2e2e2e"/>
<rect x="385.7" y="208.65" width="4" height="1.3" fill="#2e2e2e"/>
<rect x="385.7" y="210.25" width="4" height="1.3" fill="#2e2e2e"/>
<rect x="385.7" y="211.85" width="1" height="1.3" fill="#2e2e2e"/>
<rect x="385.7" y="213.35" width="1" height="1.3" fill="#2e2e2e"/>
<rect x="385.7" y="214.65" width="1.5" height="1.3" fill="#2e2e2e"/>
<rect x="385.7" y="216.35" width="1" height="1.3" fill="#2e2e2e"/>
<rect x="385.7" y="217.35" width="1" height="1.3" fill="#2e2e2e"/>
<rect x="385.7" y="228.85" width="1.5" height="1.3" fill="#2e2e2e"/>
<rect x="385.7" y="237.85" width="2.5" height="1.3" fill="#2e2e2e"/>
<rect x="385.7" y="246.95" width="1.5" height="1.3" fill="#2e2e2e"/>
<rect x="385.7" y="249.85" width="1.5" height="1.3" fill="#2e2e2e"/>
<rect x="385.7" y="269.55" width="2.5" height="1.3" fill="#2e2e2e"/>
<rect x="385.7" y="281.75" width="1.5" height="1.3" fill="#2e2e2e"/>
<rect x="385.7" y="284.95" width="5.3" height="1.3" fill="#2e2e2e"/>
<rect x="385.7" y="289.75" width="1.5" height="1.3" fill="#2e2e2e"/>
<rect x="385.7" y="220.65" width="0.9" height="1.3" fill="#2e2e2e"/>
<rect x="385.7" y="222.05" width="0.9" height="1.3" fill="#2e2e2e"/>
<rect x="385.7" y="223.35" width="0.9" height="1.3" fill="#2e2e2e"/>
<rect x="385.7" y="224.65" width="0.9" height="1.3" fill="#2e2e2e"/>
<rect x="385.7" y="226.25" width="0.9" height="1.3" fill="#2e2e2e"/>
<rect x="385.7" y="229.95" width="0.9" height="1.3" fill="#2e2e2e"/>
<rect x="385.7" y="231.45" width="0.9" height="1.3" fill="#2e2e2e"/>
<rect x="385.7" y="232.95" width="0.9" height="1.3" fill="#2e2e2e"/>
<rect x="385.7" y="234.45" width="0.9" height="1.3" fill="#2e2e2e"/>
<rect x="385.7" y="235.95" width="0.9" height="1.3" fill="#2e2e2e"/>
<rect x="385.7" y="239.35" width="0.9" height="1.3" fill="#2e2e2e"/>
<rect x="385.7" y="240.85" width="0.9" height="1.3" fill="#2e2e2e"/>
<rect x="385.7" y="242.35" width="0.9" height="1.3" fill="#2e2e2e"/>
<rect x="385.7" y="243.85" width="0.9" height="1.3" fill="#2e2e2e"/>
<rect x="385.7" y="245.35" width="0.9" height="1.3" fill="#2e2e2e"/>
<rect x="385.7" y="248.35" width="0.9" height="1.3" fill="#2e2e2e"/>
<rect x="385.7" y="251.35" width="0.9" height="1.3" fill="#2e2e2e"/>
<rect x="385.7" y="252.85" width="0.9" height="1.3" fill="#2e2e2e"/>
<rect x="385.7" y="254.35" width="0.9" height="1.3" fill="#2e2e2e"/>
<rect x="385.7" y="255.85" width="0.9" height="1.3" fill="#2e2e2e"/>
<rect x="385.7" y="257.35" width="0.9" height="1.3" fill="#2e2e2e"/>
<rect x="385.7" y="258.85" width="0.9" height="1.3" fill="#2e2e2e"/>
<rect x="385.7" y="260.35" width="0.9" height="1.3" fill="#2e2e2e"/>
<rect x="385.7" y="261.95" width="0.9" height="1.3" fill="#2e2e2e"/>
<rect x="385.7" y="263.35" width="0.9" height="1.3" fill="#2e2e2e"/>
<rect x="385.7" y="264.65" width="0.9" height="1.3" fill="#2e2e2e"/>
<rect x="385.7" y="266.05" width="0.9" height="1.3" fill="#2e2e2e"/>
<rect x="385.7" y="267.45" width="0.9" height="1.3" fill="#2e2e2e"/>
<rect x="385.7" y="270.35" width="0.9" height="1.3" fill="#2e2e2e"/>
<rect x="385.7" y="271.85" width="0.9" height="1.3" fill="#2e2e2e"/>
<rect x="385.7" y="273.35" width="0.9" height="1.3" fill="#2e2e2e"/>
<rect x="385.7" y="274.85" width="0.9" height="1.3" fill="#2e2e2e"/>
<rect x="385.7" y="276.35" width="0.9" height="1.3" fill="#2e2e2e"/>
<rect x="385.7" y="277.85" width="0.9" height="1.3" fill="#2e2e2e"/>
<rect x="385.7" y="279.35" width="0.9" height="1.3" fill="#2e2e2e"/>
<rect x="385.7" y="280.85" width="0.9" height="1.3" fill="#2e2e2e"/>
<rect x="385.7" y="283.85" width="0.9" height="1.3" fill="#2e2e2e"/>
<rect x="385.7" y="286.75" width="0.9" height="1.3" fill="#2e2e2e"/>
<rect x="385.7" y="288.25" width="0.9" height="1.3" fill="#2e2e2e"/>
<rect x="385.7" y="291.55" width="0.9" height="1.3" fill="#2e2e2e"/>
<rect x="385.7" y="292.95" width="0.9" height="1.3" fill="#2e2e2e"/>
<text class="b" font-size="6.4" text-anchor="end" transform="translate(388.0,297.0) rotate(-90)">0</text>
<text class="b" font-size="6.4" text-anchor="end" transform="translate(397.7,297.0) rotate(-90)">10</text>
<text class="b" font-size="6.4" text-anchor="end" transform="translate(407.3,297.0) rotate(-90)">20</text>
<text class="b" x="395.3" y="314.4" font-size="7.4" text-anchor="middle" >Frequency</text>
</g>
<g id="panel-c">
<text class="b" x="7" y="328" font-size="10">c</text>
<rect x="48.90" y="336.48" width="6.3" height="62.82" fill="#000"/>
<line x1="52.05" y1="399.3" x2="52.05" y2="402.1" stroke="#000" stroke-width="0.8"/>
<text class="b" font-size="5.4" text-anchor="end" transform="translate(53.55,406.30) rotate(-45)">45</text>
<rect x="58.00" y="353.93" width="6.3" height="45.37" fill="#000"/>
<line x1="61.15" y1="399.3" x2="61.15" y2="402.1" stroke="#000" stroke-width="0.8"/>
<text class="b" font-size="5.4" text-anchor="end" transform="translate(62.65,406.30) rotate(-45)">48-50</text>
<rect x="67.10" y="360.91" width="6.3" height="38.39" fill="#000"/>
<line x1="70.25" y1="399.3" x2="70.25" y2="402.1" stroke="#000" stroke-width="0.8"/>
<text class="b" font-size="5.4" text-anchor="end" transform="translate(71.75,406.30) rotate(-45)">46-47</text>
<rect x="76.20" y="360.91" width="6.3" height="38.39" fill="#000"/>
<line x1="79.35" y1="399.3" x2="79.35" y2="402.1" stroke="#000" stroke-width="0.8"/>
<text class="b" font-size="5.4" text-anchor="end" transform="translate(80.85,406.30) rotate(-45)">44</text>
<rect x="85.30" y="395.81" width="6.3" height="3.49" fill="#000"/>
<rect x="85.70" y="361.31" width="5.5" height="34.50" fill="#fff" stroke="#000" stroke-width="0.8"/>
<line x1="88.45" y1="399.3" x2="88.45" y2="402.1" stroke="#000" stroke-width="0.8"/>
<text class="b" font-size="5.4" text-anchor="end" transform="translate(89.95,406.30) rotate(-45)">45-47</text>
<rect x="94.40" y="360.91" width="6.3" height="38.39" fill="#000"/>
<line x1="97.55" y1="399.3" x2="97.55" y2="402.1" stroke="#000" stroke-width="0.8"/>
<text class="b" font-size="5.4" text-anchor="end" transform="translate(99.05,406.30) rotate(-45)">45-50</text>
<rect x="103.50" y="367.89" width="6.3" height="31.41" fill="#000"/>
<line x1="106.65" y1="399.3" x2="106.65" y2="402.1" stroke="#000" stroke-width="0.8"/>
<text class="b" font-size="5.4" text-anchor="end" transform="translate(108.15,406.30) rotate(-45)">45-52</text>
<rect x="112.60" y="388.83" width="6.3" height="10.47" fill="#000"/>
<rect x="113.00" y="371.78" width="5.5" height="17.05" fill="#fff" stroke="#000" stroke-width="0.8"/>
<line x1="115.75" y1="399.3" x2="115.75" y2="402.1" stroke="#000" stroke-width="0.8"/>
<text class="b" font-size="5.4" text-anchor="end" transform="translate(117.25,406.30) rotate(-45)">48</text>
<rect x="121.70" y="371.38" width="6.3" height="27.92" fill="#000"/>
<line x1="124.85" y1="399.3" x2="124.85" y2="402.1" stroke="#000" stroke-width="0.8"/>
<text class="b" font-size="5.4" text-anchor="end" transform="translate(126.35,406.30) rotate(-45)">49-50</text>
<rect x="130.80" y="371.38" width="6.3" height="27.92" fill="#000"/>
<line x1="133.95" y1="399.3" x2="133.95" y2="402.1" stroke="#000" stroke-width="0.8"/>
<text class="b" font-size="5.4" text-anchor="end" transform="translate(135.45,406.30) rotate(-45)">51</text>
<rect x="139.90" y="385.34" width="6.3" height="13.96" fill="#000"/>
<rect x="140.30" y="378.76" width="5.5" height="6.58" fill="#fff" stroke="#000" stroke-width="0.8"/>
<line x1="143.05" y1="399.3" x2="143.05" y2="402.1" stroke="#000" stroke-width="0.8"/>
<text class="b" font-size="5.4" text-anchor="end" transform="translate(144.55,406.30) rotate(-45)">3-7</text>
<rect x="149.00" y="378.36" width="6.3" height="20.94" fill="#000"/>
<line x1="152.15" y1="399.3" x2="152.15" y2="402.1" stroke="#000" stroke-width="0.8"/>
<text class="b" font-size="5.4" text-anchor="end" transform="translate(153.65,406.30) rotate(-45)">48-51</text>
<rect x="158.10" y="388.83" width="6.3" height="10.47" fill="#000"/>
<rect x="158.50" y="382.25" width="5.5" height="6.58" fill="#fff" stroke="#000" stroke-width="0.8"/>
<line x1="161.25" y1="399.3" x2="161.25" y2="402.1" stroke="#000" stroke-width="0.8"/>
<text class="b" font-size="5.4" text-anchor="end" transform="translate(162.75,406.30) rotate(-45)">42-43</text>
<rect x="167.20" y="385.34" width="6.3" height="13.96" fill="#000"/>
<rect x="167.60" y="382.25" width="5.5" height="3.09" fill="#fff" stroke="#000" stroke-width="0.8"/>
<line x1="170.35" y1="399.3" x2="170.35" y2="402.1" stroke="#000" stroke-width="0.8"/>
<text class="b" font-size="5.4" text-anchor="end" transform="translate(171.85,406.30) rotate(-45)">43</text>
<rect x="176.70" y="382.25" width="5.5" height="17.05" fill="#fff" stroke="#000" stroke-width="0.8"/>
<line x1="179.45" y1="399.3" x2="179.45" y2="402.1" stroke="#000" stroke-width="0.8"/>
<text class="b" font-size="5.4" text-anchor="end" transform="translate(180.95,406.30) rotate(-45)">45-55</text>
<rect x="185.40" y="381.85" width="6.3" height="17.45" fill="#000"/>
<line x1="188.55" y1="399.3" x2="188.55" y2="402.1" stroke="#000" stroke-width="0.8"/>
<text class="b" font-size="5.4" text-anchor="end" transform="translate(190.05,406.30) rotate(-45)">48-52</text>
<rect x="194.50" y="381.85" width="6.3" height="17.45" fill="#000"/>
<line x1="197.65" y1="399.3" x2="197.65" y2="402.1" stroke="#000" stroke-width="0.8"/>
<text class="b" font-size="5.4" text-anchor="end" transform="translate(199.15,406.30) rotate(-45)">49-54</text>
<rect x="203.60" y="381.85" width="6.3" height="17.45" fill="#000"/>
<line x1="206.75" y1="399.3" x2="206.75" y2="402.1" stroke="#000" stroke-width="0.8"/>
<text class="b" font-size="5.4" text-anchor="end" transform="translate(208.25,406.30) rotate(-45)">50</text>
<line x1="46" y1="329.10" x2="46" y2="399.75" stroke="#000" stroke-width="0.9"/>
<line x1="45.6" y1="399.3" x2="214.9" y2="399.3" stroke="#000" stroke-width="0.9"/>
<line x1="43.8" y1="399.30" x2="46" y2="399.30" stroke="#000" stroke-width="0.8"/>
<text class="b" x="42.5" y="401.40" font-size="5.8" text-anchor="end" >0</text>
<line x1="43.8" y1="381.85" x2="46" y2="381.85" stroke="#000" stroke-width="0.8"/>
<text class="b" x="42.5" y="383.95" font-size="5.8" text-anchor="end" >5</text>
<line x1="43.8" y1="364.40" x2="46" y2="364.40" stroke="#000" stroke-width="0.8"/>
<text class="b" x="42.5" y="366.50" font-size="5.8" text-anchor="end" >10</text>
<line x1="43.8" y1="346.95" x2="46" y2="346.95" stroke="#000" stroke-width="0.8"/>
<text class="b" x="42.5" y="349.05" font-size="5.8" text-anchor="end" >15</text>
<line x1="43.8" y1="329.50" x2="46" y2="329.50" stroke="#000" stroke-width="0.8"/>
<text class="b" x="42.5" y="331.60" font-size="5.8" text-anchor="end" >20</text>
<text class="b" font-size="5.75" text-anchor="middle" transform="translate(31.8,364.6) rotate(-90)">Number of patients</text>
<rect x="178.5" y="334.5" width="8.6" height="4.4" fill="#000"/>
<rect x="178.95" y="344.55" width="7.7" height="3.8" fill="#fff" stroke="#000" stroke-width="0.9"/>
<text class="" x="191.2" y="338.8" font-size="5.7" text-anchor="start" >DMD</text>
<text class="" x="191.2" y="348.7" font-size="5.7" text-anchor="start" >BMD</text>
<text class="b" x="129.3" y="424.8" font-size="5.9" text-anchor="middle"><tspan class="i">DMD</tspan> deletion</text>
</g>
<g id="panel-e">
<text class="b" x="247.5" y="327.6" font-size="10">e</text>
<rect x="283.00" y="346.81" width="7.9" height="52.59" fill="#000"/>
<line x1="286.95" y1="399.4" x2="286.95" y2="402.2" stroke="#000" stroke-width="0.8"/>
<text class="b" font-size="5.4" text-anchor="end" transform="translate(288.75,406.60) rotate(-45)">2</text>
<rect x="294.85" y="346.81" width="7.9" height="52.59" fill="#000"/>
<line x1="298.80" y1="399.4" x2="298.80" y2="402.2" stroke="#000" stroke-width="0.8"/>
<text class="b" font-size="5.4" text-anchor="end" transform="translate(300.60,406.60) rotate(-45)">5-63</text>
<rect x="306.70" y="364.34" width="7.9" height="35.06" fill="#000"/>
<line x1="310.65" y1="399.4" x2="310.65" y2="402.2" stroke="#000" stroke-width="0.8"/>
<text class="b" font-size="5.4" text-anchor="end" transform="translate(312.45,406.60) rotate(-45)">2-6</text>
<rect x="318.55" y="364.34" width="7.9" height="35.06" fill="#000"/>
<line x1="322.50" y1="399.4" x2="322.50" y2="402.2" stroke="#000" stroke-width="0.8"/>
<text class="b" font-size="5.4" text-anchor="end" transform="translate(324.30,406.60) rotate(-45)">3-7</text>
<rect x="330.40" y="364.34" width="7.9" height="35.06" fill="#000"/>
<line x1="334.35" y1="399.4" x2="334.35" y2="402.2" stroke="#000" stroke-width="0.8"/>
<text class="b" font-size="5.4" text-anchor="end" transform="translate(336.15,406.60) rotate(-45)">8-11</text>
<rect x="342.25" y="364.34" width="7.9" height="35.06" fill="#000"/>
<line x1="346.20" y1="399.4" x2="346.20" y2="402.2" stroke="#000" stroke-width="0.8"/>
<text class="b" font-size="5.4" text-anchor="end" transform="translate(348.00,406.60) rotate(-45)">10-11</text>
<rect x="354.10" y="364.34" width="7.9" height="35.06" fill="#000"/>
<line x1="358.05" y1="399.4" x2="358.05" y2="402.2" stroke="#000" stroke-width="0.8"/>
<text class="b" font-size="5.4" text-anchor="end" transform="translate(359.85,406.60) rotate(-45)">17</text>
<rect x="365.95" y="364.34" width="7.9" height="35.06" fill="#000"/>
<line x1="369.90" y1="399.4" x2="369.90" y2="402.2" stroke="#000" stroke-width="0.8"/>
<text class="b" font-size="5.4" text-anchor="end" transform="translate(371.70,406.60) rotate(-45)">50-55</text>
<line x1="278.8" y1="328.88" x2="278.8" y2="399.84999999999997" stroke="#000" stroke-width="0.9"/>
<line x1="278.4" y1="399.4" x2="377.3" y2="399.4" stroke="#000" stroke-width="0.9"/>
<line x1="276.5" y1="399.40" x2="278.8" y2="399.40" stroke="#000" stroke-width="0.8"/>
<text class="b" x="275.6" y="401.50" font-size="5.8" text-anchor="end" >0</text>
<line x1="276.5" y1="381.87" x2="278.8" y2="381.87" stroke="#000" stroke-width="0.8"/>
<text class="b" x="275.6" y="383.97" font-size="5.8" text-anchor="end" >1</text>
<line x1="276.5" y1="364.34" x2="278.8" y2="364.34" stroke="#000" stroke-width="0.8"/>
<text class="b" x="275.6" y="366.44" font-size="5.8" text-anchor="end" >2</text>
<line x1="276.5" y1="346.81" x2="278.8" y2="346.81" stroke="#000" stroke-width="0.8"/>
<text class="b" x="275.6" y="348.91" font-size="5.8" text-anchor="end" >3</text>
<line x1="276.5" y1="329.28" x2="278.8" y2="329.28" stroke="#000" stroke-width="0.8"/>
<text class="b" x="275.6" y="331.38" font-size="5.8" text-anchor="end" >4</text>
<text class="b" font-size="5.75" text-anchor="middle" transform="translate(268.0,364.6) rotate(-90)">Number of patients</text>
<rect x="347.25" y="334.65" width="7.9" height="3.9" fill="#fff" stroke="#000" stroke-width="0.9"/>
<rect x="346.8" y="344.1" width="8.8" height="4.6" fill="#000"/>
<text class="" x="359.2" y="338.7" font-size="5.7" text-anchor="start" >BMD</text>
<text class="" x="359.2" y="348.5" font-size="5.7" text-anchor="start" >DMD</text>
<text class="b i" x="328.5" y="424.8" font-size="5.7" text-anchor="middle">DMD duplication</text>
</g>
<g id="panel-d">
<text class="b" x="7" y="442.6" font-size="10">d</text>
<line x1="29.40" y1="431.5" x2="29.40" y2="526" stroke="#f1f1f1" stroke-width="0.7"/>
<line x1="34.00" y1="431.5" x2="34.00" y2="526" stroke="#f1f1f1" stroke-width="0.7"/>
<line x1="38.60" y1="431.5" x2="38.60" y2="526" stroke="#f1f1f1" stroke-width="0.7"/>
<line x1="43.20" y1="431.5" x2="43.20" y2="526" stroke="#f1f1f1" stroke-width="0.7"/>
<line x1="47.80" y1="431.5" x2="47.80" y2="526" stroke="#f1f1f1" stroke-width="0.7"/>
<line x1="52.40" y1="431.5" x2="52.40" y2="526" stroke="#f1f1f1" stroke-width="0.7"/>
<line x1="57.00" y1="431.5" x2="57.00" y2="526" stroke="#f1f1f1" stroke-width="0.7"/>
<line x1="61.60" y1="431.5" x2="61.60" y2="526" stroke="#f1f1f1" stroke-width="0.7"/>
<line x1="66.20" y1="431.5" x2="66.20" y2="526" stroke="#f1f1f1" stroke-width="0.7"/>
<line x1="70.80" y1="431.5" x2="70.80" y2="526" stroke="#d8d8d8" stroke-width="0.7" stroke-dasharray="1 0.8"/>
<line x1="75.40" y1="431.5" x2="75.40" y2="526" stroke="#f1f1f1" stroke-width="0.7"/>
<line x1="80.00" y1="431.5" x2="80.00" y2="526" stroke="#f1f1f1" stroke-width="0.7"/>
<line x1="84.60" y1="431.5" x2="84.60" y2="526" stroke="#f1f1f1" stroke-width="0.7"/>
<line x1="89.20" y1="431.5" x2="89.20" y2="526" stroke="#f1f1f1" stroke-width="0.7"/>
<line x1="93.80" y1="431.5" x2="93.80" y2="526" stroke="#f1f1f1" stroke-width="0.7"/>
<line x1="98.40" y1="431.5" x2="98.40" y2="526" stroke="#f1f1f1" stroke-width="0.7"/>
<line x1="103.00" y1="431.5" x2="103.00" y2="526" stroke="#f1f1f1" stroke-width="0.7"/>
<line x1="107.60" y1="431.5" x2="107.60" y2="526" stroke="#f1f1f1" stroke-width="0.7"/>
<line x1="112.20" y1="431.5" x2="112.20" y2="526" stroke="#f1f1f1" stroke-width="0.7"/>
<line x1="116.80" y1="431.5" x2="116.80" y2="526" stroke="#d8d8d8" stroke-width="0.7" stroke-dasharray="1 0.8"/>
<line x1="121.40" y1="431.5" x2="121.40" y2="526" stroke="#f1f1f1" stroke-width="0.7"/>
<line x1="126.00" y1="431.5" x2="126.00" y2="526" stroke="#f1f1f1" stroke-width="0.7"/>
<line x1="130.60" y1="431.5" x2="130.60" y2="526" stroke="#f1f1f1" stroke-width="0.7"/>
<line x1="135.20" y1="431.5" x2="135.20" y2="526" stroke="#f1f1f1" stroke-width="0.7"/>
<line x1="139.80" y1="431.5" x2="139.80" y2="526" stroke="#f1f1f1" stroke-width="0.7"/>
<line x1="144.40" y1="431.5" x2="144.40" y2="526" stroke="#f1f1f1" stroke-width="0.7"/>
<line x1="149.00" y1="431.5" x2="149.00" y2="526" stroke="#f1f1f1" stroke-width="0.7"/>
<line x1="153.60" y1="431.5" x2="153.60" y2="526" stroke="#f1f1f1" stroke-width="0.7"/>
<line x1="158.20" y1="431.5" x2="158.20" y2="526" stroke="#f1f1f1" stroke-width="0.7"/>
<line x1="162.80" y1="431.5" x2="162.80" y2="526" stroke="#d8d8d8" stroke-width="0.7" stroke-dasharray="1 0.8"/>
<line x1="167.40" y1="431.5" x2="167.40" y2="526" stroke="#f1f1f1" stroke-width="0.7"/>
<line x1="172.00" y1="431.5" x2="172.00" y2="526" stroke="#f1f1f1" stroke-width="0.7"/>
<line x1="176.60" y1="431.5" x2="176.60" y2="526" stroke="#f1f1f1" stroke-width="0.7"/>
<line x1="181.20" y1="431.5" x2="181.20" y2="526" stroke="#f1f1f1" stroke-width="0.7"/>
<line x1="185.80" y1="431.5" x2="185.80" y2="526" stroke="#f1f1f1" stroke-width="0.7"/>
<line x1="190.40" y1="431.5" x2="190.40" y2="526" stroke="#f1f1f1" stroke-width="0.7"/>
<line x1="195.00" y1="431.5" x2="195.00" y2="526" stroke="#f1f1f1" stroke-width="0.7"/>
<line x1="199.60" y1="431.5" x2="199.60" y2="526" stroke="#f1f1f1" stroke-width="0.7"/>
<line x1="204.20" y1="431.5" x2="204.20" y2="526" stroke="#f1f1f1" stroke-width="0.7"/>
<line x1="208.80" y1="431.5" x2="208.80" y2="526" stroke="#d8d8d8" stroke-width="0.7" stroke-dasharray="1 0.8"/>
<line x1="213.40" y1="431.5" x2="213.40" y2="526" stroke="#f1f1f1" stroke-width="0.7"/>
<line x1="218.00" y1="431.5" x2="218.00" y2="526" stroke="#f1f1f1" stroke-width="0.7"/>
<line x1="222.60" y1="431.5" x2="222.60" y2="526" stroke="#f1f1f1" stroke-width="0.7"/>
<line x1="227.20" y1="431.5" x2="227.20" y2="526" stroke="#f1f1f1" stroke-width="0.7"/>
<line x1="231.80" y1="431.5" x2="231.80" y2="526" stroke="#f1f1f1" stroke-width="0.7"/>
<line x1="236.40" y1="431.5" x2="236.40" y2="526" stroke="#f1f1f1" stroke-width="0.7"/>
<line x1="241.00" y1="431.5" x2="241.00" y2="526" stroke="#f1f1f1" stroke-width="0.7"/>
<line x1="245.60" y1="431.5" x2="245.60" y2="526" stroke="#f1f1f1" stroke-width="0.7"/>
<line x1="250.20" y1="431.5" x2="250.20" y2="526" stroke="#f1f1f1" stroke-width="0.7"/>
<line x1="254.80" y1="431.5" x2="254.80" y2="526" stroke="#d8d8d8" stroke-width="0.7" stroke-dasharray="1 0.8"/>
<line x1="259.40" y1="431.5" x2="259.40" y2="526" stroke="#f1f1f1" stroke-width="0.7"/>
<line x1="264.00" y1="431.5" x2="264.00" y2="526" stroke="#f1f1f1" stroke-width="0.7"/>
<line x1="268.60" y1="431.5" x2="268.60" y2="526" stroke="#f1f1f1" stroke-width="0.7"/>
<line x1="273.20" y1="431.5" x2="273.20" y2="526" stroke="#f1f1f1" stroke-width="0.7"/>
<line x1="277.80" y1="431.5" x2="277.80" y2="526" stroke="#f1f1f1" stroke-width="0.7"/>
<line x1="282.40" y1="431.5" x2="282.40" y2="526" stroke="#f1f1f1" stroke-width="0.7"/>
<line x1="287.00" y1="431.5" x2="287.00" y2="526" stroke="#f1f1f1" stroke-width="0.7"/>
<line x1="291.60" y1="431.5" x2="291.60" y2="526" stroke="#f1f1f1" stroke-width="0.7"/>
<line x1="296.20" y1="431.5" x2="296.20" y2="526" stroke="#f1f1f1" stroke-width="0.7"/>
<line x1="300.80" y1="431.5" x2="300.80" y2="526" stroke="#d8d8d8" stroke-width="0.7" stroke-dasharray="1 0.8"/>
<line x1="305.40" y1="431.5" x2="305.40" y2="526" stroke="#f1f1f1" stroke-width="0.7"/>
<line x1="310.00" y1="431.5" x2="310.00" y2="526" stroke="#f1f1f1" stroke-width="0.7"/>
<line x1="314.60" y1="431.5" x2="314.60" y2="526" stroke="#f1f1f1" stroke-width="0.7"/>
<line x1="319.20" y1="431.5" x2="319.20" y2="526" stroke="#f1f1f1" stroke-width="0.7"/>
<line x1="323.80" y1="431.5" x2="323.80" y2="526" stroke="#f1f1f1" stroke-width="0.7"/>
<line x1="328.40" y1="431.5" x2="328.40" y2="526" stroke="#f1f1f1" stroke-width="0.7"/>
<line x1="333.00" y1="431.5" x2="333.00" y2="526" stroke="#f1f1f1" stroke-width="0.7"/>
<line x1="337.60" y1="431.5" x2="337.60" y2="526" stroke="#f1f1f1" stroke-width="0.7"/>
<line x1="342.20" y1="431.5" x2="342.20" y2="526" stroke="#f1f1f1" stroke-width="0.7"/>
<line x1="346.80" y1="431.5" x2="346.80" y2="526" stroke="#d8d8d8" stroke-width="0.7" stroke-dasharray="1 0.8"/>
<line x1="351.40" y1="431.5" x2="351.40" y2="526" stroke="#f1f1f1" stroke-width="0.7"/>
<line x1="356.00" y1="431.5" x2="356.00" y2="526" stroke="#f1f1f1" stroke-width="0.7"/>
<line x1="360.60" y1="431.5" x2="360.60" y2="526" stroke="#f1f1f1" stroke-width="0.7"/>
<line x1="365.20" y1="431.5" x2="365.20" y2="526" stroke="#f1f1f1" stroke-width="0.7"/>
<line x1="369.80" y1="431.5" x2="369.80" y2="526" stroke="#f1f1f1" stroke-width="0.7"/>
<line x1="374.40" y1="431.5" x2="374.40" y2="526" stroke="#f1f1f1" stroke-width="0.7"/>
<line x1="379.00" y1="431.5" x2="379.00" y2="526" stroke="#f1f1f1" stroke-width="0.7"/>
<line x1="383.60" y1="431.5" x2="383.60" y2="526" stroke="#f1f1f1" stroke-width="0.7"/>
<line x1="388.20" y1="431.5" x2="388.20" y2="526" stroke="#f1f1f1" stroke-width="0.7"/>
<rect x="33.45" y="523.70" width="1.1" height="1.2" fill="#000"/>
<rect x="390.2" y="522.50" width="18.90" height="1.8" fill="#000"/>
<rect x="34.00" y="520.49" width="18.40" height="1.8" fill="#000"/>
<rect x="390.2" y="519.60" width="12.60" height="1.8" fill="#000"/>
<rect x="38.05" y="517.88" width="1.1" height="1.2" fill="#000"/>
<rect x="390.2" y="516.69" width="6.30" height="1.8" fill="#000"/>
<rect x="38.60" y="514.67" width="4.60" height="1.8" fill="#000"/>
<rect x="390.2" y="513.78" width="6.30" height="1.8" fill="#000"/>
<rect x="38.60" y="511.76" width="18.40" height="1.8" fill="#000"/>
<rect x="390.2" y="510.88" width="12.60" height="1.8" fill="#000"/>
<rect x="38.60" y="508.85" width="64.40" height="1.8" fill="#000"/>
<rect x="390.2" y="507.98" width="6.30" height="1.8" fill="#000"/>
<rect x="47.80" y="505.94" width="36.80" height="1.8" fill="#000"/>
<rect x="390.2" y="505.07" width="6.30" height="1.8" fill="#000"/>
<rect x="47.80" y="503.03" width="92.00" height="1.8" fill="#000"/>
<rect x="390.2" y="502.17" width="6.30" height="1.8" fill="#000"/>
<rect x="47.80" y="500.12" width="174.80" height="1.8" fill="#000"/>
<rect x="390.2" y="499.26" width="6.30" height="1.8" fill="#000"/>
<rect x="47.80" y="497.21" width="276.00" height="1.8" fill="#000"/>
<rect x="390.2" y="496.36" width="18.90" height="1.8" fill="#000"/>
<rect x="52.40" y="494.30" width="4.60" height="1.8" fill="#000"/>
<rect x="390.2" y="493.45" width="6.30" height="1.8" fill="#000"/>
<rect x="61.60" y="491.39" width="4.60" height="1.8" fill="#000"/>
<rect x="390.2" y="490.55" width="6.30" height="1.8" fill="#000"/>
<rect x="61.60" y="488.48" width="13.80" height="1.8" fill="#000"/>
<rect x="390.2" y="487.64" width="12.60" height="1.8" fill="#000"/>
<rect x="61.60" y="485.57" width="18.40" height="1.8" fill="#000"/>
<rect x="390.2" y="484.74" width="6.30" height="1.8" fill="#000"/>
<rect x="61.60" y="482.66" width="110.40" height="1.8" fill="#000"/>
<rect x="390.2" y="481.83" width="6.30" height="1.8" fill="#000"/>
<rect x="61.60" y="479.75" width="184.00" height="1.8" fill="#000"/>
<rect x="390.2" y="478.93" width="6.30" height="1.8" fill="#000"/>
<rect x="65.65" y="477.14" width="1.1" height="1.2" fill="#000"/>
<rect x="390.2" y="476.02" width="6.30" height="1.8" fill="#000"/>
<rect x="70.80" y="473.93" width="4.60" height="1.8" fill="#000"/>
<rect x="390.2" y="473.12" width="12.60" height="1.8" fill="#000"/>
<rect x="84.60" y="471.02" width="27.60" height="1.8" fill="#000"/>
<rect x="390.2" y="470.21" width="6.30" height="1.8" fill="#000"/>
<rect x="102.45" y="468.41" width="1.1" height="1.2" fill="#000"/>
<rect x="390.2" y="467.31" width="12.60" height="1.8" fill="#000"/>
<rect x="107.60" y="465.20" width="4.60" height="1.8" fill="#000"/>
<rect x="390.2" y="464.40" width="6.30" height="1.8" fill="#000"/>
<rect x="116.80" y="462.29" width="96.60" height="1.8" fill="#000"/>
<rect x="390.2" y="461.50" width="6.30" height="1.8" fill="#000"/>
<rect x="148.45" y="459.68" width="1.1" height="1.2" fill="#000"/>
<rect x="390.2" y="458.59" width="6.30" height="1.8" fill="#000"/>
<rect x="226.65" y="456.77" width="1.1" height="1.2" fill="#000"/>
<rect x="390.2" y="455.69" width="6.30" height="1.8" fill="#000"/>
<rect x="245.60" y="453.56" width="78.20" height="1.8" fill="#000"/>
<rect x="390.2" y="452.78" width="6.30" height="1.8" fill="#000"/>
<rect x="254.80" y="450.65" width="23.00" height="1.8" fill="#000"/>
<rect x="390.2" y="449.88" width="12.60" height="1.8" fill="#000"/>
<rect x="258.85" y="448.04" width="1.1" height="1.2" fill="#000"/>
<rect x="390.2" y="446.97" width="6.30" height="1.8" fill="#000"/>
<rect x="259.40" y="444.83" width="4.60" height="1.8" fill="#000"/>
<rect x="390.2" y="444.06" width="6.30" height="1.8" fill="#000"/>
<rect x="268.60" y="441.92" width="119.60" height="1.8" fill="#000"/>
<rect x="390.2" y="441.16" width="6.30" height="1.8" fill="#000"/>
<rect x="304.85" y="439.31" width="1.1" height="1.2" fill="#000"/>
<rect x="390.2" y="438.25" width="6.30" height="1.8" fill="#000"/>
<rect x="318.65" y="436.40" width="1.1" height="1.2" fill="#000"/>
<rect x="390.2" y="435.35" width="6.30" height="1.8" fill="#000"/>
<line x1="24.30" y1="526.5" x2="388.70" y2="526.5" stroke="#000" stroke-width="0.9"/>
<line x1="24.80" y1="526.5" x2="24.80" y2="528.90" stroke="#111" stroke-width="0.7"/>
<line x1="29.40" y1="526.5" x2="29.40" y2="528.20" stroke="#111" stroke-width="0.7"/>
<line x1="34.00" y1="526.5" x2="34.00" y2="528.20" stroke="#111" stroke-width="0.7"/>
<line x1="38.60" y1="526.5" x2="38.60" y2="528.20" stroke="#111" stroke-width="0.7"/>
<line x1="43.20" y1="526.5" x2="43.20" y2="528.20" stroke="#111" stroke-width="0.7"/>
<line x1="47.80" y1="526.5" x2="47.80" y2="528.20" stroke="#111" stroke-width="0.7"/>
<line x1="52.40" y1="526.5" x2="52.40" y2="528.20" stroke="#111" stroke-width="0.7"/>
<line x1="57.00" y1="526.5" x2="57.00" y2="528.20" stroke="#111" stroke-width="0.7"/>
<line x1="61.60" y1="526.5" x2="61.60" y2="528.20" stroke="#111" stroke-width="0.7"/>
<line x1="66.20" y1="526.5" x2="66.20" y2="528.20" stroke="#111" stroke-width="0.7"/>
<line x1="70.80" y1="526.5" x2="70.80" y2="528.90" stroke="#111" stroke-width="0.7"/>
<line x1="75.40" y1="526.5" x2="75.40" y2="528.20" stroke="#111" stroke-width="0.7"/>
<line x1="80.00" y1="526.5" x2="80.00" y2="528.20" stroke="#111" stroke-width="0.7"/>
<line x1="84.60" y1="526.5" x2="84.60" y2="528.20" stroke="#111" stroke-width="0.7"/>
<line x1="89.20" y1="526.5" x2="89.20" y2="528.20" stroke="#111" stroke-width="0.7"/>
<line x1="93.80" y1="526.5" x2="93.80" y2="528.20" stroke="#111" stroke-width="0.7"/>
<line x1="98.40" y1="526.5" x2="98.40" y2="528.20" stroke="#111" stroke-width="0.7"/>
<line x1="103.00" y1="526.5" x2="103.00" y2="528.20" stroke="#111" stroke-width="0.7"/>
<line x1="107.60" y1="526.5" x2="107.60" y2="528.20" stroke="#111" stroke-width="0.7"/>
<line x1="112.20" y1="526.5" x2="112.20" y2="528.20" stroke="#111" stroke-width="0.7"/>
<line x1="116.80" y1="526.5" x2="116.80" y2="528.90" stroke="#111" stroke-width="0.7"/>
<line x1="121.40" y1="526.5" x2="121.40" y2="528.20" stroke="#111" stroke-width="0.7"/>
<line x1="126.00" y1="526.5" x2="126.00" y2="528.20" stroke="#111" stroke-width="0.7"/>
<line x1="130.60" y1="526.5" x2="130.60" y2="528.20" stroke="#111" stroke-width="0.7"/>
<line x1="135.20" y1="526.5" x2="135.20" y2="528.20" stroke="#111" stroke-width="0.7"/>
<line x1="139.80" y1="526.5" x2="139.80" y2="528.20" stroke="#111" stroke-width="0.7"/>
<line x1="144.40" y1="526.5" x2="144.40" y2="528.20" stroke="#111" stroke-width="0.7"/>
<line x1="149.00" y1="526.5" x2="149.00" y2="528.20" stroke="#111" stroke-width="0.7"/>
<line x1="153.60" y1="526.5" x2="153.60" y2="528.20" stroke="#111" stroke-width="0.7"/>
<line x1="158.20" y1="526.5" x2="158.20" y2="528.20" stroke="#111" stroke-width="0.7"/>
<line x1="162.80" y1="526.5" x2="162.80" y2="528.90" stroke="#111" stroke-width="0.7"/>
<line x1="167.40" y1="526.5" x2="167.40" y2="528.20" stroke="#111" stroke-width="0.7"/>
<line x1="172.00" y1="526.5" x2="172.00" y2="528.20" stroke="#111" stroke-width="0.7"/>
<line x1="176.60" y1="526.5" x2="176.60" y2="528.20" stroke="#111" stroke-width="0.7"/>
<line x1="181.20" y1="526.5" x2="181.20" y2="528.20" stroke="#111" stroke-width="0.7"/>
<line x1="185.80" y1="526.5" x2="185.80" y2="528.20" stroke="#111" stroke-width="0.7"/>
<line x1="190.40" y1="526.5" x2="190.40" y2="528.20" stroke="#111" stroke-width="0.7"/>
<line x1="195.00" y1="526.5" x2="195.00" y2="528.20" stroke="#111" stroke-width="0.7"/>
<line x1="199.60" y1="526.5" x2="199.60" y2="528.20" stroke="#111" stroke-width="0.7"/>
<line x1="204.20" y1="526.5" x2="204.20" y2="528.20" stroke="#111" stroke-width="0.7"/>
<line x1="208.80" y1="526.5" x2="208.80" y2="528.90" stroke="#111" stroke-width="0.7"/>
<line x1="213.40" y1="526.5" x2="213.40" y2="528.20" stroke="#111" stroke-width="0.7"/>
<line x1="218.00" y1="526.5" x2="218.00" y2="528.20" stroke="#111" stroke-width="0.7"/>
<line x1="222.60" y1="526.5" x2="222.60" y2="528.20" stroke="#111" stroke-width="0.7"/>
<line x1="227.20" y1="526.5" x2="227.20" y2="528.20" stroke="#111" stroke-width="0.7"/>
<line x1="231.80" y1="526.5" x2="231.80" y2="528.20" stroke="#111" stroke-width="0.7"/>
<line x1="236.40" y1="526.5" x2="236.40" y2="528.20" stroke="#111" stroke-width="0.7"/>
<line x1="241.00" y1="526.5" x2="241.00" y2="528.20" stroke="#111" stroke-width="0.7"/>
<line x1="245.60" y1="526.5" x2="245.60" y2="528.20" stroke="#111" stroke-width="0.7"/>
<line x1="250.20" y1="526.5" x2="250.20" y2="528.20" stroke="#111" stroke-width="0.7"/>
<line x1="254.80" y1="526.5" x2="254.80" y2="528.90" stroke="#111" stroke-width="0.7"/>
<line x1="259.40" y1="526.5" x2="259.40" y2="528.20" stroke="#111" stroke-width="0.7"/>
<line x1="264.00" y1="526.5" x2="264.00" y2="528.20" stroke="#111" stroke-width="0.7"/>
<line x1="268.60" y1="526.5" x2="268.60" y2="528.20" stroke="#111" stroke-width="0.7"/>
<line x1="273.20" y1="526.5" x2="273.20" y2="528.20" stroke="#111" stroke-width="0.7"/>
<line x1="277.80" y1="526.5" x2="277.80" y2="528.20" stroke="#111" stroke-width="0.7"/>
<line x1="282.40" y1="526.5" x2="282.40" y2="528.20" stroke="#111" stroke-width="0.7"/>
<line x1="287.00" y1="526.5" x2="287.00" y2="528.20" stroke="#111" stroke-width="0.7"/>
<line x1="291.60" y1="526.5" x2="291.60" y2="528.20" stroke="#111" stroke-width="0.7"/>
<line x1="296.20" y1="526.5" x2="296.20" y2="528.20" stroke="#111" stroke-width="0.7"/>
<line x1="300.80" y1="526.5" x2="300.80" y2="528.90" stroke="#111" stroke-width="0.7"/>
<line x1="305.40" y1="526.5" x2="305.40" y2="528.20" stroke="#111" stroke-width="0.7"/>
<line x1="310.00" y1="526.5" x2="310.00" y2="528.20" stroke="#111" stroke-width="0.7"/>
<line x1="314.60" y1="526.5" x2="314.60" y2="528.20" stroke="#111" stroke-width="0.7"/>
<line x1="319.20" y1="526.5" x2="319.20" y2="528.20" stroke="#111" stroke-width="0.7"/>
<line x1="323.80" y1="526.5" x2="323.80" y2="528.20" stroke="#111" stroke-width="0.7"/>
<line x1="328.40" y1="526.5" x2="328.40" y2="528.20" stroke="#111" stroke-width="0.7"/>
<line x1="333.00" y1="526.5" x2="333.00" y2="528.20" stroke="#111" stroke-width="0.7"/>
<line x1="337.60" y1="526.5" x2="337.60" y2="528.20" stroke="#111" stroke-width="0.7"/>
<line x1="342.20" y1="526.5" x2="342.20" y2="528.20" stroke="#111" stroke-width="0.7"/>
<line x1="346.80" y1="526.5" x2="346.80" y2="528.90" stroke="#111" stroke-width="0.7"/>
<line x1="351.40" y1="526.5" x2="351.40" y2="528.20" stroke="#111" stroke-width="0.7"/>
<line x1="356.00" y1="526.5" x2="356.00" y2="528.20" stroke="#111" stroke-width="0.7"/>
<line x1="360.60" y1="526.5" x2="360.60" y2="528.20" stroke="#111" stroke-width="0.7"/>
<line x1="365.20" y1="526.5" x2="365.20" y2="528.20" stroke="#111" stroke-width="0.7"/>
<line x1="369.80" y1="526.5" x2="369.80" y2="528.20" stroke="#111" stroke-width="0.7"/>
<line x1="374.40" y1="526.5" x2="374.40" y2="528.20" stroke="#111" stroke-width="0.7"/>
<line x1="379.00" y1="526.5" x2="379.00" y2="528.20" stroke="#111" stroke-width="0.7"/>
<line x1="383.60" y1="526.5" x2="383.60" y2="528.20" stroke="#111" stroke-width="0.7"/>
<line x1="388.20" y1="526.5" x2="388.20" y2="528.20" stroke="#111" stroke-width="0.7"/>
<text class="b" x="24.8" y="534.0" font-size="6.4" text-anchor="middle" >0</text>
<text class="b" x="70.8" y="534.0" font-size="6.4" text-anchor="middle" >10</text>
<text class="b" x="116.8" y="534.0" font-size="6.4" text-anchor="middle" >20</text>
<text class="b" x="162.8" y="534.0" font-size="6.4" text-anchor="middle" >30</text>
<text class="b" x="208.8" y="534.0" font-size="6.4" text-anchor="middle" >40</text>
<text class="b" x="254.8" y="534.0" font-size="6.4" text-anchor="middle" >50</text>
<text class="b" x="300.8" y="534.0" font-size="6.4" text-anchor="middle" >60</text>
<text class="b" x="346.8" y="534.0" font-size="6.4" text-anchor="middle" >70</text>
<text class="b" x="206.5" y="546.6" font-size="7.6" text-anchor="middle"><tspan class="i">DMD</tspan> exon</text>
<line x1="390.2" y1="432.8" x2="390.2" y2="525.0" stroke="#000" stroke-width="1.1"/>
<line x1="389.7" y1="524.8" x2="409.6" y2="524.8" stroke="#000" stroke-width="0.9"/>
<line x1="390.3" y1="524.8" x2="390.3" y2="528.0" stroke="#000" stroke-width="0.8"/>
<text class="b" font-size="6.8" text-anchor="end" transform="translate(392.7,528.8) rotate(-90)">0</text>
<line x1="396.6" y1="524.8" x2="396.6" y2="528.0" stroke="#000" stroke-width="0.8"/>
<text class="b" font-size="6.8" text-anchor="end" transform="translate(399.0,528.8) rotate(-90)">1</text>
<line x1="402.9" y1="524.8" x2="402.9" y2="528.0" stroke="#000" stroke-width="0.8"/>
<text class="b" font-size="6.8" text-anchor="end" transform="translate(405.29999999999995,528.8) rotate(-90)">2</text>
<line x1="409.2" y1="524.8" x2="409.2" y2="528.0" stroke="#000" stroke-width="0.8"/>
<text class="b" font-size="6.8" text-anchor="end" transform="translate(411.59999999999997,528.8) rotate(-90)">3</text>
<text class="b" x="400.1" y="544.2" font-size="7.4" text-anchor="middle" >Frequency</text>
</g>
</svg>
</body></html>
